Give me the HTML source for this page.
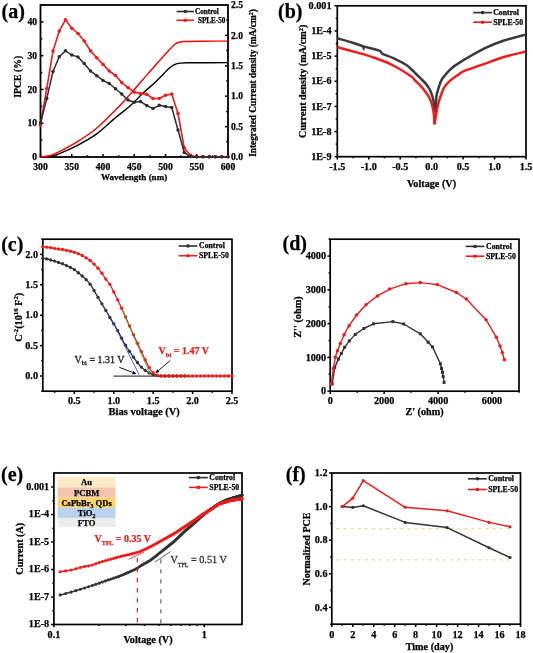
<!DOCTYPE html>
<html><head><meta charset="utf-8"><style>
html,body{margin:0;padding:0;background:#fff;}
svg{display:block;will-change:transform;}
text{font-family:"Liberation Serif", serif;}

</style></head><body>
<svg width="533" height="653" viewBox="0 0 533 653">
<rect width="533" height="653" fill="#fff"/>
<rect x="40.5" y="5" width="187.5" height="152" fill="none" stroke="#000" stroke-width="1.8"/>
<line x1="40.5" y1="157" x2="40.5" y2="154" stroke="#000" stroke-width="1.5"/>
<text x="40.5" y="169.6" font-size="9.6" text-anchor="middle" fill="#000" font-weight="bold" stroke="#000" stroke-width="0.25">300</text>
<line x1="56.12" y1="157" x2="56.12" y2="155.2" stroke="#000" stroke-width="1.5"/>
<line x1="71.75" y1="157" x2="71.75" y2="154" stroke="#000" stroke-width="1.5"/>
<text x="71.75" y="169.6" font-size="9.6" text-anchor="middle" fill="#000" font-weight="bold" stroke="#000" stroke-width="0.25">350</text>
<line x1="87.38" y1="157" x2="87.38" y2="155.2" stroke="#000" stroke-width="1.5"/>
<line x1="103" y1="157" x2="103" y2="154" stroke="#000" stroke-width="1.5"/>
<text x="103" y="169.6" font-size="9.6" text-anchor="middle" fill="#000" font-weight="bold" stroke="#000" stroke-width="0.25">400</text>
<line x1="118.62" y1="157" x2="118.62" y2="155.2" stroke="#000" stroke-width="1.5"/>
<line x1="134.25" y1="157" x2="134.25" y2="154" stroke="#000" stroke-width="1.5"/>
<text x="134.25" y="169.6" font-size="9.6" text-anchor="middle" fill="#000" font-weight="bold" stroke="#000" stroke-width="0.25">450</text>
<line x1="149.88" y1="157" x2="149.88" y2="155.2" stroke="#000" stroke-width="1.5"/>
<line x1="165.5" y1="157" x2="165.5" y2="154" stroke="#000" stroke-width="1.5"/>
<text x="165.5" y="169.6" font-size="9.6" text-anchor="middle" fill="#000" font-weight="bold" stroke="#000" stroke-width="0.25">500</text>
<line x1="181.12" y1="157" x2="181.12" y2="155.2" stroke="#000" stroke-width="1.5"/>
<line x1="196.75" y1="157" x2="196.75" y2="154" stroke="#000" stroke-width="1.5"/>
<text x="196.75" y="169.6" font-size="9.6" text-anchor="middle" fill="#000" font-weight="bold" stroke="#000" stroke-width="0.25">550</text>
<line x1="212.38" y1="157" x2="212.38" y2="155.2" stroke="#000" stroke-width="1.5"/>
<line x1="228" y1="157" x2="228" y2="154" stroke="#000" stroke-width="1.5"/>
<text x="228" y="169.6" font-size="9.6" text-anchor="middle" fill="#000" font-weight="bold" stroke="#000" stroke-width="0.25">600</text>
<line x1="40.5" y1="157" x2="43.5" y2="157" stroke="#000" stroke-width="1.5"/>
<text x="37" y="160.2" font-size="9.6" text-anchor="end" fill="#000" font-weight="bold" stroke="#000" stroke-width="0.25">0</text>
<line x1="40.5" y1="140.11" x2="42.3" y2="140.11" stroke="#000" stroke-width="1.5"/>
<line x1="40.5" y1="123.22" x2="43.5" y2="123.22" stroke="#000" stroke-width="1.5"/>
<text x="37" y="126.42" font-size="9.6" text-anchor="end" fill="#000" font-weight="bold" stroke="#000" stroke-width="0.25">10</text>
<line x1="40.5" y1="106.33" x2="42.3" y2="106.33" stroke="#000" stroke-width="1.5"/>
<line x1="40.5" y1="89.44" x2="43.5" y2="89.44" stroke="#000" stroke-width="1.5"/>
<text x="37" y="92.64" font-size="9.6" text-anchor="end" fill="#000" font-weight="bold" stroke="#000" stroke-width="0.25">20</text>
<line x1="40.5" y1="72.56" x2="42.3" y2="72.56" stroke="#000" stroke-width="1.5"/>
<line x1="40.5" y1="55.67" x2="43.5" y2="55.67" stroke="#000" stroke-width="1.5"/>
<text x="37" y="58.87" font-size="9.6" text-anchor="end" fill="#000" font-weight="bold" stroke="#000" stroke-width="0.25">30</text>
<line x1="40.5" y1="38.78" x2="42.3" y2="38.78" stroke="#000" stroke-width="1.5"/>
<line x1="40.5" y1="21.89" x2="43.5" y2="21.89" stroke="#000" stroke-width="1.5"/>
<text x="37" y="25.09" font-size="9.6" text-anchor="end" fill="#000" font-weight="bold" stroke="#000" stroke-width="0.25">40</text>
<line x1="40.5" y1="5" x2="42.3" y2="5" stroke="#000" stroke-width="1.5"/>
<line x1="228" y1="157" x2="225" y2="157" stroke="#000" stroke-width="1.5"/>
<text x="231" y="160.2" font-size="9.6" text-anchor="start" fill="#000" font-weight="bold" stroke="#000" stroke-width="0.25">0.0</text>
<line x1="228" y1="141.8" x2="226.2" y2="141.8" stroke="#000" stroke-width="1.5"/>
<line x1="228" y1="126.6" x2="225" y2="126.6" stroke="#000" stroke-width="1.5"/>
<text x="231" y="129.8" font-size="9.6" text-anchor="start" fill="#000" font-weight="bold" stroke="#000" stroke-width="0.25">0.5</text>
<line x1="228" y1="111.4" x2="226.2" y2="111.4" stroke="#000" stroke-width="1.5"/>
<line x1="228" y1="96.2" x2="225" y2="96.2" stroke="#000" stroke-width="1.5"/>
<text x="231" y="99.4" font-size="9.6" text-anchor="start" fill="#000" font-weight="bold" stroke="#000" stroke-width="0.25">1.0</text>
<line x1="228" y1="81" x2="226.2" y2="81" stroke="#000" stroke-width="1.5"/>
<line x1="228" y1="65.8" x2="225" y2="65.8" stroke="#000" stroke-width="1.5"/>
<text x="231" y="69" font-size="9.6" text-anchor="start" fill="#000" font-weight="bold" stroke="#000" stroke-width="0.25">1.5</text>
<line x1="228" y1="50.6" x2="226.2" y2="50.6" stroke="#000" stroke-width="1.5"/>
<line x1="228" y1="35.4" x2="225" y2="35.4" stroke="#000" stroke-width="1.5"/>
<text x="231" y="38.6" font-size="9.6" text-anchor="start" fill="#000" font-weight="bold" stroke="#000" stroke-width="0.25">2.0</text>
<line x1="228" y1="20.2" x2="226.2" y2="20.2" stroke="#000" stroke-width="1.5"/>
<line x1="228" y1="5" x2="225" y2="5" stroke="#000" stroke-width="1.5"/>
<text x="231" y="8.2" font-size="9.6" text-anchor="start" fill="#000" font-weight="bold" stroke="#000" stroke-width="0.25">2.5</text>
<text x="134" y="180.2" font-size="9" text-anchor="middle" fill="#000" font-weight="bold" stroke="#000" stroke-width="0.25">Wavelength (nm)</text>
<text x="21" y="76.7" font-size="9.8" text-anchor="middle" fill="#000" font-weight="bold" stroke="#000" stroke-width="0.25" transform="rotate(-90 21 76.7)">IPCE (%)</text>
<text x="256" y="83" font-size="9.3" text-anchor="middle" fill="#000" font-weight="bold" stroke="#000" stroke-width="0.25" transform="rotate(-90 256 83)">Integrated Current density (mA/cm<tspan dy="-3" font-size="6">2</tspan><tspan dy="3">)</tspan></text>
<text x="1.5" y="17.6" font-size="20" text-anchor="start" fill="#000" font-weight="bold" stroke="#000" stroke-width="0.25">(a)</text>
<path d="M40.5,157 C42.08,156.88 46.95,156.83 50,156.3 C53.05,155.77 54.22,155.63 58.8,153.8 C63.38,151.97 71.25,148.58 77.5,145.3 C83.75,142.02 90.05,138.63 96.3,134.1 C102.55,129.57 109.38,122.78 115,118.1 C120.62,113.42 125.32,110.17 130,106 C134.68,101.83 138.72,97.23 143.1,93.1 C147.48,88.97 151.92,85.37 156.3,81.2 C160.68,77.03 166.28,70.92 169.4,68.1 C172.52,65.28 173.23,65.13 175,64.3 C176.77,63.47 177.5,63.35 180,63.1 C182.5,62.85 182,62.88 190,62.8 C198,62.72 221.67,62.63 228,62.6" fill="none" stroke="#000" stroke-width="1.4" stroke-linejoin="round"/>
<path d="M40.5,157 C42.08,156.77 46.95,156.45 50,155.6 C53.05,154.75 54.22,154.23 58.8,151.9 C63.38,149.57 71.25,145.5 77.5,141.6 C83.75,137.7 90.05,133.67 96.3,128.5 C102.55,123.33 109.38,116.28 115,110.6 C120.62,104.92 125.32,99.62 130,94.4 C134.68,89.18 138.72,84.33 143.1,79.3 C147.48,74.27 151.92,69.13 156.3,64.2 C160.68,59.27 166.28,53.03 169.4,49.7 C172.52,46.37 173.4,45.45 175,44.2 C176.6,42.95 177.33,42.65 179,42.2 C180.67,41.75 181.5,41.67 185,41.5 C188.5,41.33 192.83,41.27 200,41.2 C207.17,41.13 223.33,41.12 228,41.1" fill="none" stroke="#f00" stroke-width="1.4" stroke-linejoin="round"/>
<polyline points="40.5,125 46.75,88.5 53,51.1 59.25,31 65.5,19.8 71.75,28.2 78,33.5 84.25,41 90.5,50.9 96.75,57.8 103,64.4 109.25,71 115.5,75.5 121.75,82.6 128,87.6 134.25,92.1 140.5,93.5 146.75,94.4 153,98.5 159.25,98.5 165.5,95.3 171.75,94 178,113.5 184.25,147.9 190.5,155.4 196.75,156.8 203,156.8 209.25,156.8 215.5,156.8 221.75,156.8 228,156.8" fill="none" stroke="#ee1c1c" stroke-width="1.6" stroke-linejoin="round"/>
<circle cx="40.5" cy="125" r="1.8" fill="#ee1c1c"/>
<circle cx="46.75" cy="88.5" r="1.8" fill="#ee1c1c"/>
<circle cx="53" cy="51.1" r="1.8" fill="#ee1c1c"/>
<circle cx="59.25" cy="31" r="1.8" fill="#ee1c1c"/>
<circle cx="65.5" cy="19.8" r="1.8" fill="#ee1c1c"/>
<circle cx="71.75" cy="28.2" r="1.8" fill="#ee1c1c"/>
<circle cx="78" cy="33.5" r="1.8" fill="#ee1c1c"/>
<circle cx="84.25" cy="41" r="1.8" fill="#ee1c1c"/>
<circle cx="90.5" cy="50.9" r="1.8" fill="#ee1c1c"/>
<circle cx="96.75" cy="57.8" r="1.8" fill="#ee1c1c"/>
<circle cx="103" cy="64.4" r="1.8" fill="#ee1c1c"/>
<circle cx="109.25" cy="71" r="1.8" fill="#ee1c1c"/>
<circle cx="115.5" cy="75.5" r="1.8" fill="#ee1c1c"/>
<circle cx="121.75" cy="82.6" r="1.8" fill="#ee1c1c"/>
<circle cx="128" cy="87.6" r="1.8" fill="#ee1c1c"/>
<circle cx="134.25" cy="92.1" r="1.8" fill="#ee1c1c"/>
<circle cx="140.5" cy="93.5" r="1.8" fill="#ee1c1c"/>
<circle cx="146.75" cy="94.4" r="1.8" fill="#ee1c1c"/>
<circle cx="153" cy="98.5" r="1.8" fill="#ee1c1c"/>
<circle cx="159.25" cy="98.5" r="1.8" fill="#ee1c1c"/>
<circle cx="165.5" cy="95.3" r="1.8" fill="#ee1c1c"/>
<circle cx="171.75" cy="94" r="1.8" fill="#ee1c1c"/>
<circle cx="178" cy="113.5" r="1.8" fill="#ee1c1c"/>
<circle cx="184.25" cy="147.9" r="1.8" fill="#ee1c1c"/>
<circle cx="190.5" cy="155.4" r="1.8" fill="#ee1c1c"/>
<circle cx="196.75" cy="156.8" r="1.8" fill="#ee1c1c"/>
<circle cx="203" cy="156.8" r="1.8" fill="#ee1c1c"/>
<circle cx="209.25" cy="156.8" r="1.8" fill="#ee1c1c"/>
<circle cx="215.5" cy="156.8" r="1.8" fill="#ee1c1c"/>
<circle cx="221.75" cy="156.8" r="1.8" fill="#ee1c1c"/>
<circle cx="228" cy="156.8" r="1.8" fill="#ee1c1c"/>
<polyline points="40.5,123 46.75,98.6 53,71.5 59.25,56.8 65.5,50.8 71.75,55 78,56.9 84.25,63.5 90.5,71 96.75,75.7 103,80.4 109.25,83.5 115.5,88.8 121.75,94 128,100 134.25,102.3 140.5,101.5 146.75,105.6 153,108.5 159.25,105.3 165.5,106.6 171.75,107.5 178,130 184.25,152.5 190.5,156.6 196.75,156.8 203,156.8 209.25,156.8 215.5,156.8 221.75,156.8 228,156.8" fill="none" stroke="#2e2e2e" stroke-width="1.5" stroke-linejoin="round"/>
<circle cx="40.5" cy="123" r="1.75" fill="#2e2e2e"/>
<circle cx="46.75" cy="98.6" r="1.75" fill="#2e2e2e"/>
<circle cx="53" cy="71.5" r="1.75" fill="#2e2e2e"/>
<circle cx="59.25" cy="56.8" r="1.75" fill="#2e2e2e"/>
<circle cx="65.5" cy="50.8" r="1.75" fill="#2e2e2e"/>
<circle cx="71.75" cy="55" r="1.75" fill="#2e2e2e"/>
<circle cx="78" cy="56.9" r="1.75" fill="#2e2e2e"/>
<circle cx="84.25" cy="63.5" r="1.75" fill="#2e2e2e"/>
<circle cx="90.5" cy="71" r="1.75" fill="#2e2e2e"/>
<circle cx="96.75" cy="75.7" r="1.75" fill="#2e2e2e"/>
<circle cx="103" cy="80.4" r="1.75" fill="#2e2e2e"/>
<circle cx="109.25" cy="83.5" r="1.75" fill="#2e2e2e"/>
<circle cx="115.5" cy="88.8" r="1.75" fill="#2e2e2e"/>
<circle cx="121.75" cy="94" r="1.75" fill="#2e2e2e"/>
<circle cx="128" cy="100" r="1.75" fill="#2e2e2e"/>
<circle cx="134.25" cy="102.3" r="1.75" fill="#2e2e2e"/>
<circle cx="140.5" cy="101.5" r="1.75" fill="#2e2e2e"/>
<circle cx="146.75" cy="105.6" r="1.75" fill="#2e2e2e"/>
<circle cx="153" cy="108.5" r="1.75" fill="#2e2e2e"/>
<circle cx="159.25" cy="105.3" r="1.75" fill="#2e2e2e"/>
<circle cx="165.5" cy="106.6" r="1.75" fill="#2e2e2e"/>
<circle cx="171.75" cy="107.5" r="1.75" fill="#2e2e2e"/>
<circle cx="178" cy="130" r="1.75" fill="#2e2e2e"/>
<circle cx="184.25" cy="152.5" r="1.75" fill="#2e2e2e"/>
<circle cx="190.5" cy="156.6" r="1.75" fill="#2e2e2e"/>
<circle cx="196.75" cy="156.8" r="1.75" fill="#2e2e2e"/>
<circle cx="203" cy="156.8" r="1.75" fill="#2e2e2e"/>
<circle cx="209.25" cy="156.8" r="1.75" fill="#2e2e2e"/>
<circle cx="215.5" cy="156.8" r="1.75" fill="#2e2e2e"/>
<circle cx="221.75" cy="156.8" r="1.75" fill="#2e2e2e"/>
<circle cx="228" cy="156.8" r="1.75" fill="#2e2e2e"/>
<line x1="176.6" y1="11.5" x2="194" y2="11.5" stroke="#2e2e2e" stroke-width="1.6"/>
<circle cx="185.3" cy="11.5" r="1.8" fill="#2e2e2e"/>
<text x="195" y="13.8" font-size="7.2" text-anchor="start" fill="#000" font-weight="bold" stroke="#000" stroke-width="0.25">Control</text>
<line x1="176.6" y1="20.3" x2="194" y2="20.3" stroke="#ee1c1c" stroke-width="1.6"/>
<circle cx="185.3" cy="20.3" r="1.8" fill="#ee1c1c"/>
<text x="197.9" y="22.9" font-size="7.2" text-anchor="start" fill="#000" font-weight="bold" stroke="#000" stroke-width="0.25">SPLE-50</text>
<rect x="337.3" y="5.8" width="188.7" height="150.9" fill="none" stroke="#000" stroke-width="1.7"/>
<line x1="337.3" y1="156.7" x2="337.3" y2="159.5" stroke="#000" stroke-width="1.5"/>
<text x="337.3" y="169.8" font-size="10.2" text-anchor="middle" fill="#000" font-weight="bold" stroke="#000" stroke-width="0.25">-1.5</text>
<line x1="353.03" y1="156.7" x2="353.03" y2="158.3" stroke="#000" stroke-width="1.5"/>
<line x1="368.75" y1="156.7" x2="368.75" y2="159.5" stroke="#000" stroke-width="1.5"/>
<text x="368.75" y="169.8" font-size="10.2" text-anchor="middle" fill="#000" font-weight="bold" stroke="#000" stroke-width="0.25">-1.0</text>
<line x1="384.48" y1="156.7" x2="384.48" y2="158.3" stroke="#000" stroke-width="1.5"/>
<line x1="400.2" y1="156.7" x2="400.2" y2="159.5" stroke="#000" stroke-width="1.5"/>
<text x="400.2" y="169.8" font-size="10.2" text-anchor="middle" fill="#000" font-weight="bold" stroke="#000" stroke-width="0.25">-0.5</text>
<line x1="415.93" y1="156.7" x2="415.93" y2="158.3" stroke="#000" stroke-width="1.5"/>
<line x1="431.65" y1="156.7" x2="431.65" y2="159.5" stroke="#000" stroke-width="1.5"/>
<text x="431.65" y="169.8" font-size="10.2" text-anchor="middle" fill="#000" font-weight="bold" stroke="#000" stroke-width="0.25">0.0</text>
<line x1="447.38" y1="156.7" x2="447.38" y2="158.3" stroke="#000" stroke-width="1.5"/>
<line x1="463.1" y1="156.7" x2="463.1" y2="159.5" stroke="#000" stroke-width="1.5"/>
<text x="463.1" y="169.8" font-size="10.2" text-anchor="middle" fill="#000" font-weight="bold" stroke="#000" stroke-width="0.25">0.5</text>
<line x1="478.82" y1="156.7" x2="478.82" y2="158.3" stroke="#000" stroke-width="1.5"/>
<line x1="494.55" y1="156.7" x2="494.55" y2="159.5" stroke="#000" stroke-width="1.5"/>
<text x="494.55" y="169.8" font-size="10.2" text-anchor="middle" fill="#000" font-weight="bold" stroke="#000" stroke-width="0.25">1.0</text>
<line x1="510.27" y1="156.7" x2="510.27" y2="158.3" stroke="#000" stroke-width="1.5"/>
<line x1="526" y1="156.7" x2="526" y2="159.5" stroke="#000" stroke-width="1.5"/>
<text x="526" y="169.8" font-size="10.2" text-anchor="middle" fill="#000" font-weight="bold" stroke="#000" stroke-width="0.25">1.5</text>
<line x1="337.3" y1="156.7" x2="334.5" y2="156.7" stroke="#000" stroke-width="1.5"/>
<line x1="337.3" y1="144.12" x2="335.7" y2="144.12" stroke="#000" stroke-width="1.5"/>
<line x1="337.3" y1="131.55" x2="334.5" y2="131.55" stroke="#000" stroke-width="1.5"/>
<line x1="337.3" y1="118.97" x2="335.7" y2="118.97" stroke="#000" stroke-width="1.5"/>
<line x1="337.3" y1="106.4" x2="334.5" y2="106.4" stroke="#000" stroke-width="1.5"/>
<line x1="337.3" y1="93.82" x2="335.7" y2="93.82" stroke="#000" stroke-width="1.5"/>
<line x1="337.3" y1="81.25" x2="334.5" y2="81.25" stroke="#000" stroke-width="1.5"/>
<line x1="337.3" y1="68.67" x2="335.7" y2="68.67" stroke="#000" stroke-width="1.5"/>
<line x1="337.3" y1="56.1" x2="334.5" y2="56.1" stroke="#000" stroke-width="1.5"/>
<line x1="337.3" y1="43.53" x2="335.7" y2="43.53" stroke="#000" stroke-width="1.5"/>
<line x1="337.3" y1="30.95" x2="334.5" y2="30.95" stroke="#000" stroke-width="1.5"/>
<line x1="337.3" y1="18.38" x2="335.7" y2="18.38" stroke="#000" stroke-width="1.5"/>
<line x1="337.3" y1="5.8" x2="334.5" y2="5.8" stroke="#000" stroke-width="1.5"/>
<text x="331.5" y="9" font-size="10.2" text-anchor="end" fill="#000" font-weight="bold" stroke="#000" stroke-width="0.25">0.001</text>
<text x="331.5" y="34.15" font-size="10.2" text-anchor="end" fill="#000" font-weight="bold" stroke="#000" stroke-width="0.25">1E-4</text>
<text x="331.5" y="59.3" font-size="10.2" text-anchor="end" fill="#000" font-weight="bold" stroke="#000" stroke-width="0.25">1E-5</text>
<text x="331.5" y="84.45" font-size="10.2" text-anchor="end" fill="#000" font-weight="bold" stroke="#000" stroke-width="0.25">1E-6</text>
<text x="331.5" y="109.6" font-size="10.2" text-anchor="end" fill="#000" font-weight="bold" stroke="#000" stroke-width="0.25">1E-7</text>
<text x="331.5" y="134.75" font-size="10.2" text-anchor="end" fill="#000" font-weight="bold" stroke="#000" stroke-width="0.25">1E-8</text>
<text x="331.5" y="159.9" font-size="10.2" text-anchor="end" fill="#000" font-weight="bold" stroke="#000" stroke-width="0.25">1E-9</text>
<text x="431.5" y="186.5" font-size="10.2" text-anchor="middle" fill="#000" font-weight="bold" stroke="#000" stroke-width="0.25">Voltage (V)</text>
<text x="306.3" y="81.2" font-size="10.2" text-anchor="middle" fill="#000" font-weight="bold" stroke="#000" stroke-width="0.25" transform="rotate(-90 306.3 81.2)">Current density (mA/cm<tspan dy="-3.5" font-size="6.5">2</tspan><tspan dy="3.5">)</tspan></text>
<text x="278" y="17.5" font-size="20" text-anchor="start" fill="#000" font-weight="bold" stroke="#000" stroke-width="0.25">(b)</text>
<path d="M337.3,38.3 C339.72,39 347.42,41.15 351.8,42.5 C356.18,43.85 359,45.05 363.6,46.4 C368.2,47.75 376.25,49.37 379.4,50.6 C382.55,51.83 380.1,52.52 382.5,53.8 C384.9,55.08 389.88,56.47 393.8,58.3 C397.72,60.13 403.13,63.02 406,64.8 C408.87,66.58 409.5,67.65 411,69 C412.5,70.35 413.43,71.37 415,72.9 C416.57,74.43 418.62,76.42 420.4,78.2 C422.18,79.98 424.1,81.63 425.7,83.6 C427.3,85.57 428.83,87.68 430,90 C431.17,92.32 431.98,94.83 432.7,97.5 C433.42,100.17 433.95,103.5 434.3,106 C434.65,108.5 434.72,111.42 434.8,112.5" fill="none" stroke="#3a3a3a" stroke-width="2.5" stroke-linejoin="round"/>
<path d="M434.8,112.5 C434.98,111.25 435.63,107.68 435.9,105 C436.17,102.32 435.95,99.25 436.4,96.4 C436.85,93.55 437.78,90.57 438.6,87.9 C439.42,85.23 440.05,82.73 441.3,80.4 C442.55,78.07 444.23,76.05 446.1,73.9 C447.97,71.75 449.82,69.65 452.5,67.5 C455.18,65.35 460.12,62.38 462.2,61 C464.28,59.62 461.28,61.32 465,59.2 C468.72,57.08 478,51.42 484.5,48.3 C491,45.18 497.17,42.78 504,40.5 C510.83,38.22 521.92,35.58 525.5,34.6" fill="none" stroke="#3a3a3a" stroke-width="2.5" stroke-linejoin="round"/>
<polyline points="362.6,46.2 363.6,49.8 364.6,46.8" fill="none" stroke="#3a3a3a" stroke-width="1.4" stroke-linejoin="round"/>
<path d="M337.3,47.2 C340.22,47.98 348.77,50.18 354.8,51.9 C360.83,53.62 367.25,55.32 373.5,57.5 C379.75,59.68 386.05,61.87 392.3,65 C398.55,68.13 407.22,73.73 411,76.3 C414.78,78.87 413.43,78.83 415,80.4 C416.57,81.97 418.62,83.73 420.4,85.7 C422.18,87.67 424.18,90.15 425.7,92.2 C427.22,94.25 428.43,95.87 429.5,98 C430.57,100.13 431.38,102.4 432.1,105 C432.82,107.6 433.4,110.38 433.8,113.6 C434.2,116.82 434.38,122.52 434.5,124.3" fill="none" stroke="#ee1c1c" stroke-width="2.5" stroke-linejoin="round"/>
<path d="M434.5,124.3 C434.73,122.87 435.4,118.55 435.9,115.7 C436.4,112.85 436.97,109.7 437.5,107.2 C438.03,104.7 438.47,102.85 439.1,100.7 C439.73,98.55 440.5,96.43 441.3,94.3 C442.1,92.17 442.57,90.05 443.9,87.9 C445.23,85.75 446.97,83.55 449.3,81.4 C451.63,79.25 455.28,76.78 457.9,75 C460.52,73.22 460.57,72.55 465,70.7 C469.43,68.85 478,66.18 484.5,63.9 C491,61.62 497.17,59.05 504,57 C510.83,54.95 521.92,52.5 525.5,51.6" fill="none" stroke="#ee1c1c" stroke-width="2.5" stroke-linejoin="round"/>
<line x1="473.2" y1="12.6" x2="492" y2="12.6" stroke="#2e2e2e" stroke-width="1.6"/>
<circle cx="482.6" cy="12.6" r="1.8" fill="#2e2e2e"/>
<text x="493.2" y="15.2" font-size="7.8" text-anchor="start" fill="#000" font-weight="bold" stroke="#000" stroke-width="0.25">Control</text>
<line x1="473.2" y1="22.2" x2="492" y2="22.2" stroke="#ee1c1c" stroke-width="1.6"/>
<circle cx="482.6" cy="22.2" r="1.8" fill="#ee1c1c"/>
<text x="493.2" y="24.6" font-size="7.8" text-anchor="start" fill="#000" font-weight="bold" stroke="#000" stroke-width="0.25">SPLE-50</text>
<rect x="42.8" y="239.2" width="189.2" height="152" fill="none" stroke="#000" stroke-width="1.7"/>
<line x1="54.62" y1="391.2" x2="54.62" y2="392.8" stroke="#000" stroke-width="1.5"/>
<line x1="74.33" y1="391.2" x2="74.33" y2="394" stroke="#000" stroke-width="1.5"/>
<text x="74.33" y="404" font-size="10.2" text-anchor="middle" fill="#000" font-weight="bold" stroke="#000" stroke-width="0.25">0.5</text>
<line x1="94.04" y1="391.2" x2="94.04" y2="392.8" stroke="#000" stroke-width="1.5"/>
<line x1="113.75" y1="391.2" x2="113.75" y2="394" stroke="#000" stroke-width="1.5"/>
<text x="113.75" y="404" font-size="10.2" text-anchor="middle" fill="#000" font-weight="bold" stroke="#000" stroke-width="0.25">1.0</text>
<line x1="133.46" y1="391.2" x2="133.46" y2="392.8" stroke="#000" stroke-width="1.5"/>
<line x1="153.17" y1="391.2" x2="153.17" y2="394" stroke="#000" stroke-width="1.5"/>
<text x="153.17" y="404" font-size="10.2" text-anchor="middle" fill="#000" font-weight="bold" stroke="#000" stroke-width="0.25">1.5</text>
<line x1="172.88" y1="391.2" x2="172.88" y2="392.8" stroke="#000" stroke-width="1.5"/>
<line x1="192.58" y1="391.2" x2="192.58" y2="394" stroke="#000" stroke-width="1.5"/>
<text x="192.58" y="404" font-size="10.2" text-anchor="middle" fill="#000" font-weight="bold" stroke="#000" stroke-width="0.25">2.0</text>
<line x1="212.29" y1="391.2" x2="212.29" y2="392.8" stroke="#000" stroke-width="1.5"/>
<line x1="232" y1="391.2" x2="232" y2="394" stroke="#000" stroke-width="1.5"/>
<text x="232" y="404" font-size="10.2" text-anchor="middle" fill="#000" font-weight="bold" stroke="#000" stroke-width="0.25">2.5</text>
<line x1="42.8" y1="391.2" x2="41.2" y2="391.2" stroke="#000" stroke-width="1.5"/>
<line x1="42.8" y1="376" x2="40" y2="376" stroke="#000" stroke-width="1.5"/>
<text x="38" y="379.2" font-size="10.2" text-anchor="end" fill="#000" font-weight="bold" stroke="#000" stroke-width="0.25">0.0</text>
<line x1="42.8" y1="360.8" x2="41.2" y2="360.8" stroke="#000" stroke-width="1.5"/>
<line x1="42.8" y1="345.6" x2="40" y2="345.6" stroke="#000" stroke-width="1.5"/>
<text x="38" y="348.8" font-size="10.2" text-anchor="end" fill="#000" font-weight="bold" stroke="#000" stroke-width="0.25">0.5</text>
<line x1="42.8" y1="330.4" x2="41.2" y2="330.4" stroke="#000" stroke-width="1.5"/>
<line x1="42.8" y1="315.2" x2="40" y2="315.2" stroke="#000" stroke-width="1.5"/>
<text x="38" y="318.4" font-size="10.2" text-anchor="end" fill="#000" font-weight="bold" stroke="#000" stroke-width="0.25">1.0</text>
<line x1="42.8" y1="300" x2="41.2" y2="300" stroke="#000" stroke-width="1.5"/>
<line x1="42.8" y1="284.8" x2="40" y2="284.8" stroke="#000" stroke-width="1.5"/>
<text x="38" y="288" font-size="10.2" text-anchor="end" fill="#000" font-weight="bold" stroke="#000" stroke-width="0.25">1.5</text>
<line x1="42.8" y1="269.6" x2="41.2" y2="269.6" stroke="#000" stroke-width="1.5"/>
<line x1="42.8" y1="254.4" x2="40" y2="254.4" stroke="#000" stroke-width="1.5"/>
<text x="38" y="257.6" font-size="10.2" text-anchor="end" fill="#000" font-weight="bold" stroke="#000" stroke-width="0.25">2.0</text>
<line x1="42.8" y1="239.2" x2="41.2" y2="239.2" stroke="#000" stroke-width="1.5"/>
<text x="144.2" y="414.7" font-size="10.5" text-anchor="middle" fill="#000" font-weight="bold" stroke="#000" stroke-width="0.25">Bias voltage (V)</text>
<text x="22.5" y="317.3" font-size="10.2" text-anchor="middle" fill="#000" font-weight="bold" stroke="#000" stroke-width="0.25" transform="rotate(-90 22.5 317.3)">C<tspan dy="-4.8" font-size="6.8">-2</tspan><tspan dy="4.8">(10</tspan><tspan dy="-4.8" font-size="6.8">16</tspan><tspan dy="4.8"> F</tspan><tspan dy="-4.8" font-size="6.8">2</tspan><tspan dy="4.8">)</tspan></text>
<text x="1.2" y="250.7" font-size="20" text-anchor="start" fill="#000" font-weight="bold" stroke="#000" stroke-width="0.25">(c)</text>
<line x1="113.4" y1="376.1" x2="186.7" y2="376.1" stroke="#444" stroke-width="1.3"/>
<path d="M42.8,258.3 C43.58,258.42 46.02,258.67 47.5,259 C48.98,259.33 50.37,259.92 51.7,260.3 C53.03,260.68 54.2,260.88 55.5,261.3 C56.8,261.72 58.2,262.35 59.5,262.8 C60.8,263.25 62.05,263.5 63.3,264 C64.55,264.5 65.68,265.17 67,265.8 C68.32,266.43 69.9,267.1 71.2,267.8 C72.5,268.5 73.5,269.08 74.8,270 C76.1,270.92 77.6,272.17 79,273.3 C80.4,274.43 81.82,275.55 83.2,276.8 C84.58,278.05 86,279.38 87.3,280.8 C88.6,282.22 89.75,283.47 91,285.3 C92.25,287.13 93.48,289.53 94.8,291.8 C96.12,294.07 97.57,296.65 98.9,298.9 C100.23,301.15 101.48,303.12 102.8,305.3 C104.12,307.48 105.5,309.75 106.8,312 C108.1,314.25 109.32,316.63 110.6,318.8 C111.88,320.97 113.18,322.8 114.5,325 C115.82,327.2 117.2,329.58 118.5,332 C119.8,334.42 121.05,337.17 122.3,339.5 C123.55,341.83 124.72,343.92 126,346 C127.28,348.08 128.67,350 130,352 C131.33,354 132.67,356.12 134,358 C135.33,359.88 136.67,361.67 138,363.3 C139.33,364.93 140.67,366.52 142,367.8 C143.33,369.08 144.67,370.07 146,371 C147.33,371.93 148.67,372.75 150,373.4 C151.33,374.05 152.67,374.52 154,374.9 C155.33,375.28 156.67,375.52 158,375.7 C159.33,375.88 156.67,375.95 162,376 C167.33,376.05 185.33,376 190,376" fill="none" stroke="#333" stroke-width="1.3" stroke-linejoin="round"/>
<path d="M42.8,246.8 C43.58,246.87 46.02,247.03 47.5,247.2 C48.98,247.37 50.37,247.57 51.7,247.8 C53.03,248.03 54.25,248.4 55.5,248.6 C56.75,248.8 57.9,248.83 59.2,249 C60.5,249.17 62,249.35 63.3,249.6 C64.6,249.85 65.75,250.2 67,250.5 C68.25,250.8 69.5,251.1 70.8,251.4 C72.1,251.7 73.48,251.9 74.8,252.3 C76.12,252.7 77.37,253.22 78.7,253.8 C80.03,254.38 81.45,255.05 82.8,255.8 C84.15,256.55 85.47,257.43 86.8,258.3 C88.13,259.17 89.47,259.92 90.8,261 C92.13,262.08 93.5,263.5 94.8,264.8 C96.1,266.1 97.35,267.3 98.6,268.8 C99.85,270.3 101.07,272.05 102.3,273.8 C103.53,275.55 104.67,277.43 106,279.3 C107.33,281.17 108.92,282.72 110.3,285 C111.68,287.28 113.02,290.42 114.3,293 C115.58,295.58 116.72,297.83 118,300.5 C119.28,303.17 120.67,306.08 122,309 C123.33,311.92 124.67,315 126,318 C127.33,321 128.67,324 130,327 C131.33,330 132.67,333.08 134,336 C135.33,338.92 136.67,341.67 138,344.5 C139.33,347.33 140.67,350.17 142,353 C143.33,355.83 144.67,358.83 146,361.5 C147.33,364.17 148.67,366.95 150,369 C151.33,371.05 152.67,372.7 154,373.8 C155.33,374.9 156.67,375.23 158,375.6 C159.33,375.97 149.67,375.93 162,376 C174.33,376.07 220.33,376 232,376" fill="none" stroke="#ee1c1c" stroke-width="1.3" stroke-linejoin="round"/>
<circle cx="42.8" cy="258.3" r="1.65" fill="#333"/>
<circle cx="46.74" cy="258.89" r="1.65" fill="#333"/>
<circle cx="50.68" cy="259.99" r="1.65" fill="#333"/>
<circle cx="54.62" cy="261.07" r="1.65" fill="#333"/>
<circle cx="58.57" cy="262.45" r="1.65" fill="#333"/>
<circle cx="62.51" cy="263.75" r="1.65" fill="#333"/>
<circle cx="66.45" cy="265.53" r="1.65" fill="#333"/>
<circle cx="70.39" cy="267.42" r="1.65" fill="#333"/>
<circle cx="74.33" cy="269.71" r="1.65" fill="#333"/>
<circle cx="78.27" cy="272.73" r="1.65" fill="#333"/>
<circle cx="82.22" cy="275.98" r="1.65" fill="#333"/>
<circle cx="86.16" cy="279.69" r="1.65" fill="#333"/>
<circle cx="90.1" cy="284.21" r="1.65" fill="#333"/>
<circle cx="94.04" cy="290.5" r="1.65" fill="#333"/>
<circle cx="97.98" cy="297.31" r="1.65" fill="#333"/>
<circle cx="101.93" cy="303.86" r="1.65" fill="#333"/>
<circle cx="105.87" cy="310.44" r="1.65" fill="#333"/>
<circle cx="109.81" cy="317.38" r="1.65" fill="#333"/>
<circle cx="113.75" cy="323.81" r="1.65" fill="#333"/>
<circle cx="117.69" cy="330.59" r="1.65" fill="#333"/>
<circle cx="121.63" cy="338.18" r="1.65" fill="#333"/>
<circle cx="125.58" cy="345.25" r="1.65" fill="#333"/>
<circle cx="129.52" cy="351.28" r="1.65" fill="#333"/>
<circle cx="133.46" cy="357.19" r="1.65" fill="#333"/>
<circle cx="137.4" cy="362.51" r="1.65" fill="#333"/>
<circle cx="141.34" cy="367.06" r="1.65" fill="#333"/>
<circle cx="145.28" cy="370.43" r="1.65" fill="#333"/>
<circle cx="149.23" cy="372.94" r="1.65" fill="#333"/>
<circle cx="153.17" cy="374.59" r="1.65" fill="#333"/>
<circle cx="157.11" cy="375.52" r="1.65" fill="#333"/>
<circle cx="161.05" cy="375.93" r="1.65" fill="#333"/>
<circle cx="164.99" cy="376" r="1.65" fill="#333"/>
<circle cx="168.93" cy="376" r="1.65" fill="#333"/>
<circle cx="172.88" cy="376" r="1.65" fill="#333"/>
<circle cx="176.82" cy="376" r="1.65" fill="#333"/>
<circle cx="180.76" cy="376" r="1.65" fill="#333"/>
<circle cx="184.7" cy="376" r="1.65" fill="#333"/>
<circle cx="42.8" cy="246.8" r="1.7" fill="#ee1c1c"/>
<circle cx="46.74" cy="247.14" r="1.7" fill="#ee1c1c"/>
<circle cx="50.68" cy="247.65" r="1.7" fill="#ee1c1c"/>
<circle cx="54.62" cy="248.42" r="1.7" fill="#ee1c1c"/>
<circle cx="58.57" cy="248.93" r="1.7" fill="#ee1c1c"/>
<circle cx="62.51" cy="249.48" r="1.7" fill="#ee1c1c"/>
<circle cx="66.45" cy="250.37" r="1.7" fill="#ee1c1c"/>
<circle cx="70.39" cy="251.3" r="1.7" fill="#ee1c1c"/>
<circle cx="74.33" cy="252.19" r="1.7" fill="#ee1c1c"/>
<circle cx="78.27" cy="253.64" r="1.7" fill="#ee1c1c"/>
<circle cx="82.22" cy="255.52" r="1.7" fill="#ee1c1c"/>
<circle cx="86.16" cy="257.9" r="1.7" fill="#ee1c1c"/>
<circle cx="90.1" cy="260.53" r="1.7" fill="#ee1c1c"/>
<circle cx="94.04" cy="264.08" r="1.7" fill="#ee1c1c"/>
<circle cx="97.98" cy="268.15" r="1.7" fill="#ee1c1c"/>
<circle cx="101.93" cy="273.29" r="1.7" fill="#ee1c1c"/>
<circle cx="105.87" cy="279.1" r="1.7" fill="#ee1c1c"/>
<circle cx="109.81" cy="284.35" r="1.7" fill="#ee1c1c"/>
<circle cx="113.75" cy="291.9" r="1.7" fill="#ee1c1c"/>
<circle cx="117.69" cy="299.88" r="1.7" fill="#ee1c1c"/>
<circle cx="121.63" cy="308.22" r="1.7" fill="#ee1c1c"/>
<circle cx="125.58" cy="317.04" r="1.7" fill="#ee1c1c"/>
<circle cx="129.52" cy="325.91" r="1.7" fill="#ee1c1c"/>
<circle cx="133.46" cy="334.78" r="1.7" fill="#ee1c1c"/>
<circle cx="137.4" cy="343.23" r="1.7" fill="#ee1c1c"/>
<circle cx="141.34" cy="351.6" r="1.7" fill="#ee1c1c"/>
<circle cx="145.28" cy="359.98" r="1.7" fill="#ee1c1c"/>
<circle cx="149.23" cy="367.55" r="1.7" fill="#ee1c1c"/>
<circle cx="153.17" cy="372.8" r="1.7" fill="#ee1c1c"/>
<circle cx="157.11" cy="375.2" r="1.7" fill="#ee1c1c"/>
<circle cx="161.05" cy="375.91" r="1.7" fill="#ee1c1c"/>
<circle cx="164.99" cy="376" r="1.7" fill="#ee1c1c"/>
<circle cx="168.93" cy="376" r="1.7" fill="#ee1c1c"/>
<circle cx="172.88" cy="376" r="1.7" fill="#ee1c1c"/>
<circle cx="176.82" cy="376" r="1.7" fill="#ee1c1c"/>
<circle cx="180.76" cy="376" r="1.7" fill="#ee1c1c"/>
<circle cx="184.7" cy="376" r="1.7" fill="#ee1c1c"/>
<circle cx="188.64" cy="376" r="1.7" fill="#ee1c1c"/>
<circle cx="192.58" cy="376" r="1.7" fill="#ee1c1c"/>
<circle cx="196.53" cy="376" r="1.7" fill="#ee1c1c"/>
<circle cx="200.47" cy="376" r="1.7" fill="#ee1c1c"/>
<circle cx="204.41" cy="376" r="1.7" fill="#ee1c1c"/>
<circle cx="208.35" cy="376" r="1.7" fill="#ee1c1c"/>
<circle cx="212.29" cy="376" r="1.7" fill="#ee1c1c"/>
<circle cx="216.23" cy="376" r="1.7" fill="#ee1c1c"/>
<circle cx="220.17" cy="376" r="1.7" fill="#ee1c1c"/>
<circle cx="224.12" cy="376" r="1.7" fill="#ee1c1c"/>
<circle cx="228.06" cy="376" r="1.7" fill="#ee1c1c"/>
<circle cx="232" cy="376" r="1.7" fill="#ee1c1c"/>
<line x1="110.3" y1="317" x2="139.2" y2="374.8" stroke="#1a3fff" stroke-width="0.8"/>
<line x1="121.5" y1="308.8" x2="150.8" y2="375.6" stroke="#55aa33" stroke-width="0.8"/>
<line x1="119.3" y1="367.3" x2="132.67" y2="372.46" stroke="#000" stroke-width="0.9"/>
<polygon points="136.4,373.9 132.02,374.14 133.32,370.78" fill="#000"/>
<line x1="170.2" y1="360.5" x2="158.34" y2="370.61" stroke="#000" stroke-width="0.9"/>
<polygon points="155.3,373.2 157.18,369.24 159.51,371.98" fill="#000"/>
<text x="74.6" y="362.7" font-size="10" text-anchor="start" fill="#222" font-weight="normal" stroke="#222" stroke-width="0.3">V<tspan dy="2.5" font-size="6.5">bi</tspan><tspan dy="-2.5"> = 1.31 V</tspan></text>
<text x="158.6" y="354.3" font-size="10" text-anchor="start" fill="#ee1c1c" font-weight="bold" stroke="#ee1c1c" stroke-width="0.25">V<tspan dy="2.5" font-size="6.5">bi</tspan><tspan dy="-2.5"> = 1.47 V</tspan></text>
<line x1="178.7" y1="246" x2="197.3" y2="246" stroke="#2e2e2e" stroke-width="1.6"/>
<circle cx="188" cy="246" r="1.8" fill="#2e2e2e"/>
<text x="199" y="248.4" font-size="7.8" text-anchor="start" fill="#000" font-weight="bold" stroke="#000" stroke-width="0.25">Control</text>
<line x1="178.7" y1="255.7" x2="197.3" y2="255.7" stroke="#ee1c1c" stroke-width="1.6"/>
<circle cx="188" cy="255.7" r="1.8" fill="#ee1c1c"/>
<text x="199" y="258.1" font-size="7.8" text-anchor="start" fill="#000" font-weight="bold" stroke="#000" stroke-width="0.25">SPLE-50</text>
<rect x="330.2" y="239.2" width="188.8" height="152" fill="none" stroke="#000" stroke-width="1.7"/>
<line x1="330.2" y1="391.2" x2="330.2" y2="394" stroke="#000" stroke-width="1.5"/>
<text x="330.2" y="403.5" font-size="10.2" text-anchor="middle" fill="#000" font-weight="bold" stroke="#000" stroke-width="0.25">0</text>
<line x1="357.17" y1="391.2" x2="357.17" y2="392.8" stroke="#000" stroke-width="1.5"/>
<line x1="384.14" y1="391.2" x2="384.14" y2="394" stroke="#000" stroke-width="1.5"/>
<text x="384.14" y="403.5" font-size="10.2" text-anchor="middle" fill="#000" font-weight="bold" stroke="#000" stroke-width="0.25">2000</text>
<line x1="411.11" y1="391.2" x2="411.11" y2="392.8" stroke="#000" stroke-width="1.5"/>
<line x1="438.09" y1="391.2" x2="438.09" y2="394" stroke="#000" stroke-width="1.5"/>
<text x="438.09" y="403.5" font-size="10.2" text-anchor="middle" fill="#000" font-weight="bold" stroke="#000" stroke-width="0.25">4000</text>
<line x1="465.06" y1="391.2" x2="465.06" y2="392.8" stroke="#000" stroke-width="1.5"/>
<line x1="492.03" y1="391.2" x2="492.03" y2="394" stroke="#000" stroke-width="1.5"/>
<text x="492.03" y="403.5" font-size="10.2" text-anchor="middle" fill="#000" font-weight="bold" stroke="#000" stroke-width="0.25">6000</text>
<line x1="519" y1="391.2" x2="519" y2="392.8" stroke="#000" stroke-width="1.5"/>
<line x1="330.2" y1="391.2" x2="327.4" y2="391.2" stroke="#000" stroke-width="1.5"/>
<text x="326" y="394.4" font-size="10.2" text-anchor="end" fill="#000" font-weight="bold" stroke="#000" stroke-width="0.25">0</text>
<line x1="330.2" y1="374.31" x2="328.6" y2="374.31" stroke="#000" stroke-width="1.5"/>
<line x1="330.2" y1="357.42" x2="327.4" y2="357.42" stroke="#000" stroke-width="1.5"/>
<text x="326" y="360.62" font-size="10.2" text-anchor="end" fill="#000" font-weight="bold" stroke="#000" stroke-width="0.25">1000</text>
<line x1="330.2" y1="340.53" x2="328.6" y2="340.53" stroke="#000" stroke-width="1.5"/>
<line x1="330.2" y1="323.64" x2="327.4" y2="323.64" stroke="#000" stroke-width="1.5"/>
<text x="326" y="326.84" font-size="10.2" text-anchor="end" fill="#000" font-weight="bold" stroke="#000" stroke-width="0.25">2000</text>
<line x1="330.2" y1="306.76" x2="328.6" y2="306.76" stroke="#000" stroke-width="1.5"/>
<line x1="330.2" y1="289.87" x2="327.4" y2="289.87" stroke="#000" stroke-width="1.5"/>
<text x="326" y="293.07" font-size="10.2" text-anchor="end" fill="#000" font-weight="bold" stroke="#000" stroke-width="0.25">3000</text>
<line x1="330.2" y1="272.98" x2="328.6" y2="272.98" stroke="#000" stroke-width="1.5"/>
<line x1="330.2" y1="256.09" x2="327.4" y2="256.09" stroke="#000" stroke-width="1.5"/>
<text x="326" y="259.29" font-size="10.2" text-anchor="end" fill="#000" font-weight="bold" stroke="#000" stroke-width="0.25">4000</text>
<line x1="330.2" y1="239.2" x2="328.6" y2="239.2" stroke="#000" stroke-width="1.5"/>
<text x="424.5" y="414.6" font-size="10.2" text-anchor="middle" fill="#000" font-weight="bold" stroke="#000" stroke-width="0.25">Z' (ohm)</text>
<text x="301.3" y="317" font-size="10.3" text-anchor="middle" fill="#000" font-weight="bold" stroke="#000" stroke-width="0.25" transform="rotate(-90 301.3 317)">Z'' (ohm)</text>
<text x="282.5" y="249.8" font-size="20" text-anchor="start" fill="#000" font-weight="bold" stroke="#000" stroke-width="0.25">(d)</text>
<polyline points="332.2,384 334.7,367.6 338.4,359.1 341.3,353.5 344.6,347.3 349.3,340.9 355.3,334.4 363.8,328.5 373.5,323.8 392.9,321.6 403.7,324 420.3,333.8 428.2,342.2 432.5,346.9 440.4,363.8 441.5,368.5 442.5,372.3 443.2,376.6 444.1,382.4" fill="none" stroke="#333" stroke-width="1.4" stroke-linejoin="round"/>
<rect x="330.7" y="382.5" width="3.0" height="3.0" fill="#333"/>
<rect x="333.2" y="366.1" width="3.0" height="3.0" fill="#333"/>
<rect x="336.9" y="357.6" width="3.0" height="3.0" fill="#333"/>
<rect x="339.8" y="352" width="3.0" height="3.0" fill="#333"/>
<rect x="343.1" y="345.8" width="3.0" height="3.0" fill="#333"/>
<rect x="347.8" y="339.4" width="3.0" height="3.0" fill="#333"/>
<rect x="353.8" y="332.9" width="3.0" height="3.0" fill="#333"/>
<rect x="362.3" y="327" width="3.0" height="3.0" fill="#333"/>
<rect x="372" y="322.3" width="3.0" height="3.0" fill="#333"/>
<rect x="391.4" y="320.1" width="3.0" height="3.0" fill="#333"/>
<rect x="402.2" y="322.5" width="3.0" height="3.0" fill="#333"/>
<rect x="418.8" y="332.3" width="3.0" height="3.0" fill="#333"/>
<rect x="426.7" y="340.7" width="3.0" height="3.0" fill="#333"/>
<rect x="431" y="345.4" width="3.0" height="3.0" fill="#333"/>
<rect x="438.9" y="362.3" width="3.0" height="3.0" fill="#333"/>
<rect x="440" y="367" width="3.0" height="3.0" fill="#333"/>
<rect x="441" y="370.8" width="3.0" height="3.0" fill="#333"/>
<rect x="441.7" y="375.1" width="3.0" height="3.0" fill="#333"/>
<rect x="442.6" y="380.9" width="3.0" height="3.0" fill="#333"/>
<polyline points="331.2,384 333.4,368.5 335.3,357.2 337.5,350.7 340.3,343.5 344.1,334.7 349.1,325.7 356.6,315 366,304.7 377.5,295.9 389.7,289.1 406,283.7 420.3,282.6 437.2,284.6 456.5,292.5 466.3,299.1 486,319.7 496.3,337.2 500,346 502.3,352.5 504.4,359.7" fill="none" stroke="#ee1c1c" stroke-width="1.4" stroke-linejoin="round"/>
<circle cx="331.2" cy="384" r="1.75" fill="#ee1c1c"/>
<circle cx="333.4" cy="368.5" r="1.75" fill="#ee1c1c"/>
<circle cx="335.3" cy="357.2" r="1.75" fill="#ee1c1c"/>
<circle cx="337.5" cy="350.7" r="1.75" fill="#ee1c1c"/>
<circle cx="340.3" cy="343.5" r="1.75" fill="#ee1c1c"/>
<circle cx="344.1" cy="334.7" r="1.75" fill="#ee1c1c"/>
<circle cx="349.1" cy="325.7" r="1.75" fill="#ee1c1c"/>
<circle cx="356.6" cy="315" r="1.75" fill="#ee1c1c"/>
<circle cx="366" cy="304.7" r="1.75" fill="#ee1c1c"/>
<circle cx="377.5" cy="295.9" r="1.75" fill="#ee1c1c"/>
<circle cx="389.7" cy="289.1" r="1.75" fill="#ee1c1c"/>
<circle cx="406" cy="283.7" r="1.75" fill="#ee1c1c"/>
<circle cx="420.3" cy="282.6" r="1.75" fill="#ee1c1c"/>
<circle cx="437.2" cy="284.6" r="1.75" fill="#ee1c1c"/>
<circle cx="456.5" cy="292.5" r="1.75" fill="#ee1c1c"/>
<circle cx="466.3" cy="299.1" r="1.75" fill="#ee1c1c"/>
<circle cx="486" cy="319.7" r="1.75" fill="#ee1c1c"/>
<circle cx="496.3" cy="337.2" r="1.75" fill="#ee1c1c"/>
<circle cx="500" cy="346" r="1.75" fill="#ee1c1c"/>
<circle cx="502.3" cy="352.5" r="1.75" fill="#ee1c1c"/>
<circle cx="504.4" cy="359.7" r="1.75" fill="#ee1c1c"/>
<line x1="465.7" y1="246.4" x2="484.3" y2="246.4" stroke="#2e2e2e" stroke-width="1.6"/>
<rect x="473.5" y="244.9" width="3.0" height="3.0" fill="#2e2e2e"/>
<text x="486" y="248.9" font-size="7.8" text-anchor="start" fill="#000" font-weight="bold" stroke="#000" stroke-width="0.25">Control</text>
<line x1="465.7" y1="256.2" x2="484.3" y2="256.2" stroke="#ee1c1c" stroke-width="1.6"/>
<circle cx="475" cy="256.2" r="1.8" fill="#ee1c1c"/>
<text x="486" y="258.7" font-size="7.8" text-anchor="start" fill="#000" font-weight="bold" stroke="#000" stroke-width="0.25">SPLE-50</text>
<rect x="57.7" y="477" width="57.8" height="10.4" fill="#fbebc6"/>
<rect x="57.7" y="487.4" width="57.8" height="10.2" fill="#f5c6ad"/>
<rect x="57.7" y="497.6" width="57.8" height="10.2" fill="#fcd46c"/>
<rect x="57.7" y="507.8" width="57.8" height="10.1" fill="#b9d3ee"/>
<rect x="57.7" y="517.9" width="57.8" height="9.3" fill="#ededed"/>
<text x="86.6" y="485.2" font-size="8.6" text-anchor="middle" fill="#000" font-weight="bold" stroke="#000" stroke-width="0.25">Au</text>
<text x="86.6" y="495.5" font-size="8.6" text-anchor="middle" fill="#000" font-weight="bold" stroke="#000" stroke-width="0.25">PCBM</text>
<text x="86.6" y="505.7" font-size="8.6" text-anchor="middle" fill="#000" font-weight="bold" stroke="#000" stroke-width="0.25">CsPbBr<tspan dy="2" font-size="5.8">3</tspan><tspan dy="-2"> QDs</tspan></text>
<text x="86.6" y="515.85" font-size="8.6" text-anchor="middle" fill="#000" font-weight="bold" stroke="#000" stroke-width="0.25">TiO<tspan dy="2" font-size="5.8">2</tspan></text>
<text x="86.6" y="525.55" font-size="8.6" text-anchor="middle" fill="#000" font-weight="bold" stroke="#000" stroke-width="0.25">FTO</text>
<rect x="53.9" y="473" width="188.1" height="151.5" fill="none" stroke="#000" stroke-width="1.7"/>
<line x1="53.9" y1="624.5" x2="53.9" y2="627.3" stroke="#000" stroke-width="1.5"/>
<line x1="99.14" y1="624.5" x2="99.14" y2="626.1" stroke="#000" stroke-width="1.5"/>
<line x1="125.61" y1="624.5" x2="125.61" y2="626.1" stroke="#000" stroke-width="1.5"/>
<line x1="144.39" y1="624.5" x2="144.39" y2="626.1" stroke="#000" stroke-width="1.5"/>
<line x1="158.96" y1="624.5" x2="158.96" y2="626.1" stroke="#000" stroke-width="1.5"/>
<line x1="170.86" y1="624.5" x2="170.86" y2="626.1" stroke="#000" stroke-width="1.5"/>
<line x1="180.92" y1="624.5" x2="180.92" y2="626.1" stroke="#000" stroke-width="1.5"/>
<line x1="189.63" y1="624.5" x2="189.63" y2="626.1" stroke="#000" stroke-width="1.5"/>
<line x1="197.32" y1="624.5" x2="197.32" y2="626.1" stroke="#000" stroke-width="1.5"/>
<line x1="204.2" y1="624.5" x2="204.2" y2="627.3" stroke="#000" stroke-width="1.5"/>
<text x="53.9" y="637.6" font-size="10.2" text-anchor="middle" fill="#000" font-weight="bold" stroke="#000" stroke-width="0.25">0.1</text>
<text x="204.2" y="637.6" font-size="10.2" text-anchor="middle" fill="#000" font-weight="bold" stroke="#000" stroke-width="0.25">1</text>
<line x1="53.9" y1="624.5" x2="51.1" y2="624.5" stroke="#000" stroke-width="1.5"/>
<line x1="53.9" y1="610.75" x2="52.3" y2="610.75" stroke="#000" stroke-width="1.5"/>
<line x1="53.9" y1="597" x2="51.1" y2="597" stroke="#000" stroke-width="1.5"/>
<line x1="53.9" y1="583.25" x2="52.3" y2="583.25" stroke="#000" stroke-width="1.5"/>
<line x1="53.9" y1="569.5" x2="51.1" y2="569.5" stroke="#000" stroke-width="1.5"/>
<line x1="53.9" y1="555.75" x2="52.3" y2="555.75" stroke="#000" stroke-width="1.5"/>
<line x1="53.9" y1="542" x2="51.1" y2="542" stroke="#000" stroke-width="1.5"/>
<line x1="53.9" y1="528.25" x2="52.3" y2="528.25" stroke="#000" stroke-width="1.5"/>
<line x1="53.9" y1="514.5" x2="51.1" y2="514.5" stroke="#000" stroke-width="1.5"/>
<line x1="53.9" y1="500.75" x2="52.3" y2="500.75" stroke="#000" stroke-width="1.5"/>
<line x1="53.9" y1="487" x2="51.1" y2="487" stroke="#000" stroke-width="1.5"/>
<text x="49.2" y="489.6" font-size="10.2" text-anchor="end" fill="#000" font-weight="bold" stroke="#000" stroke-width="0.25">0.001</text>
<text x="49.2" y="517.1" font-size="10.2" text-anchor="end" fill="#000" font-weight="bold" stroke="#000" stroke-width="0.25">1E-4</text>
<text x="49.2" y="544.6" font-size="10.2" text-anchor="end" fill="#000" font-weight="bold" stroke="#000" stroke-width="0.25">1E-5</text>
<text x="49.2" y="572.1" font-size="10.2" text-anchor="end" fill="#000" font-weight="bold" stroke="#000" stroke-width="0.25">1E-6</text>
<text x="49.2" y="599.6" font-size="10.2" text-anchor="end" fill="#000" font-weight="bold" stroke="#000" stroke-width="0.25">1E-7</text>
<text x="49.2" y="627.1" font-size="10.2" text-anchor="end" fill="#000" font-weight="bold" stroke="#000" stroke-width="0.25">1E-8</text>
<text x="148" y="642.5" font-size="10.2" text-anchor="middle" fill="#000" font-weight="bold" stroke="#000" stroke-width="0.25">Voltage (V)</text>
<text x="23.5" y="548.8" font-size="10.1" text-anchor="middle" fill="#000" font-weight="bold" stroke="#000" stroke-width="0.25" transform="rotate(-90 23.5 548.8)">Current (A)</text>
<text x="1" y="481.3" font-size="20" text-anchor="start" fill="#000" font-weight="bold" stroke="#000" stroke-width="0.25">(e)</text>
<path d="M61,594.9 C62.9,594.37 68.9,592.72 72.4,591.7 C75.9,590.68 78.9,589.77 82,588.8 C85.1,587.83 88.25,586.8 91,585.9 C93.75,585 96.17,584.22 98.5,583.4 C100.83,582.58 102.92,581.73 105,581 C107.08,580.27 109,579.67 111,579 C113,578.33 115.17,577.63 117,577 C118.83,576.37 120.33,575.87 122,575.2 C123.67,574.53 125.33,573.73 127,573 C128.67,572.27 130.33,571.55 132,570.8 C133.67,570.05 135.67,569.27 137,568.5 C138.33,567.73 137.62,567.67 140,566.2 C142.38,564.73 147.55,562.28 151.3,559.7 C155.05,557.12 158.75,553.7 162.5,550.7 C166.25,547.7 170.05,544.98 173.8,541.7 C177.55,538.42 181.67,534.03 185,531 C188.33,527.97 191.3,525.7 193.8,523.5 C196.3,521.3 198.32,519.35 200,517.8 C201.68,516.25 202.12,515.63 203.9,514.2 C205.68,512.77 208.17,510.98 210.7,509.2 C213.23,507.42 216.28,505.1 219.1,503.5 C221.92,501.9 223.78,500.97 227.6,499.6 C231.42,498.23 239.6,496.02 242,495.3" fill="none" stroke="#333" stroke-width="1.5" stroke-linejoin="round"/>
<path d="M61,571.7 C62.9,571.38 68.9,570.58 72.4,569.8 C75.9,569.02 78.9,567.72 82,567 C85.1,566.28 88,566.3 91,565.5 C94,564.7 96.83,563.22 100,562.2 C103.17,561.18 106.67,560.33 110,559.4 C113.33,558.47 116.67,557.47 120,556.6 C123.33,555.73 126.67,555.03 130,554.2 C133.33,553.37 136.45,552.93 140,551.6 C143.55,550.27 147.55,548.13 151.3,546.2 C155.05,544.27 158.75,542.07 162.5,540 C166.25,537.93 170.05,536.05 173.8,533.8 C177.55,531.55 181.67,528.68 185,526.5 C188.33,524.32 191.3,522.42 193.8,520.7 C196.3,518.98 198.32,517.38 200,516.2 C201.68,515.02 202.12,514.72 203.9,513.6 C205.68,512.48 208.17,511.1 210.7,509.5 C213.23,507.9 215.73,505.52 219.1,504 C222.47,502.48 227.08,501.28 230.9,500.4 C234.72,499.52 240.15,498.98 242,498.7" fill="none" stroke="#ee1c1c" stroke-width="1.5" stroke-linejoin="round"/>
<circle cx="60.12" cy="594.9" r="1.55" fill="#333"/>
<circle cx="65.8" cy="593.55" r="1.55" fill="#333"/>
<circle cx="71.03" cy="592.09" r="1.55" fill="#333"/>
<circle cx="75.86" cy="590.65" r="1.55" fill="#333"/>
<circle cx="80.37" cy="589.29" r="1.55" fill="#333"/>
<circle cx="84.58" cy="587.97" r="1.55" fill="#333"/>
<circle cx="88.54" cy="586.69" r="1.55" fill="#333"/>
<circle cx="92.27" cy="585.48" r="1.55" fill="#333"/>
<circle cx="95.8" cy="584.3" r="1.55" fill="#333"/>
<circle cx="99.14" cy="583.16" r="1.55" fill="#333"/>
<circle cx="102.33" cy="581.99" r="1.55" fill="#333"/>
<circle cx="105.37" cy="580.88" r="1.55" fill="#333"/>
<circle cx="108.27" cy="579.91" r="1.55" fill="#333"/>
<circle cx="111.05" cy="578.98" r="1.55" fill="#333"/>
<circle cx="113.71" cy="578.1" r="1.55" fill="#333"/>
<circle cx="116.27" cy="577.24" r="1.55" fill="#333"/>
<circle cx="118.73" cy="576.38" r="1.55" fill="#333"/>
<circle cx="121.11" cy="575.52" r="1.55" fill="#333"/>
<circle cx="123.4" cy="574.58" r="1.55" fill="#333"/>
<circle cx="125.61" cy="573.61" r="1.55" fill="#333"/>
<circle cx="127.75" cy="572.67" r="1.55" fill="#333"/>
<circle cx="129.82" cy="571.76" r="1.55" fill="#333"/>
<circle cx="131.83" cy="570.87" r="1.55" fill="#333"/>
<circle cx="133.78" cy="569.98" r="1.55" fill="#333"/>
<circle cx="135.67" cy="569.11" r="1.55" fill="#333"/>
<circle cx="137.51" cy="568.11" r="1.55" fill="#333"/>
<circle cx="139.3" cy="566.74" r="1.55" fill="#333"/>
<circle cx="141.04" cy="565.6" r="1.55" fill="#333"/>
<circle cx="142.74" cy="564.63" r="1.55" fill="#333"/>
<circle cx="144.39" cy="563.67" r="1.55" fill="#333"/>
<circle cx="146" cy="562.75" r="1.55" fill="#333"/>
<circle cx="147.57" cy="561.84" r="1.55" fill="#333"/>
<circle cx="149.11" cy="560.96" r="1.55" fill="#333"/>
<circle cx="150.61" cy="560.1" r="1.55" fill="#333"/>
<circle cx="152.08" cy="559.07" r="1.55" fill="#333"/>
<circle cx="153.51" cy="557.92" r="1.55" fill="#333"/>
<circle cx="154.92" cy="556.79" r="1.55" fill="#333"/>
<circle cx="156.29" cy="555.69" r="1.55" fill="#333"/>
<circle cx="157.64" cy="554.61" r="1.55" fill="#333"/>
<circle cx="158.96" cy="553.55" r="1.55" fill="#333"/>
<circle cx="160.25" cy="552.51" r="1.55" fill="#333"/>
<circle cx="161.52" cy="551.49" r="1.55" fill="#333"/>
<circle cx="162.76" cy="550.49" r="1.55" fill="#333"/>
<circle cx="163.98" cy="549.52" r="1.55" fill="#333"/>
<circle cx="165.18" cy="548.57" r="1.55" fill="#333"/>
<circle cx="166.35" cy="547.63" r="1.55" fill="#333"/>
<circle cx="167.51" cy="546.71" r="1.55" fill="#333"/>
<circle cx="168.64" cy="545.81" r="1.55" fill="#333"/>
<circle cx="169.76" cy="544.92" r="1.55" fill="#333"/>
<circle cx="170.86" cy="544.04" r="1.55" fill="#333"/>
<circle cx="171.94" cy="543.19" r="1.55" fill="#333"/>
<circle cx="173" cy="542.34" r="1.55" fill="#333"/>
<circle cx="174.04" cy="541.47" r="1.55" fill="#333"/>
<circle cx="175.07" cy="540.49" r="1.55" fill="#333"/>
<circle cx="176.08" cy="539.52" r="1.55" fill="#333"/>
<circle cx="177.08" cy="538.57" r="1.55" fill="#333"/>
<circle cx="178.06" cy="537.63" r="1.55" fill="#333"/>
<circle cx="179.03" cy="536.71" r="1.55" fill="#333"/>
<circle cx="179.98" cy="535.8" r="1.55" fill="#333"/>
<circle cx="180.92" cy="534.9" r="1.55" fill="#333"/>
<circle cx="181.84" cy="534.01" r="1.55" fill="#333"/>
<circle cx="182.76" cy="533.14" r="1.55" fill="#333"/>
<circle cx="183.66" cy="532.28" r="1.55" fill="#333"/>
<circle cx="184.55" cy="531.43" r="1.55" fill="#333"/>
<circle cx="185.42" cy="530.64" r="1.55" fill="#333"/>
<circle cx="186.29" cy="529.9" r="1.55" fill="#333"/>
<circle cx="187.14" cy="529.18" r="1.55" fill="#333"/>
<circle cx="187.98" cy="528.46" r="1.55" fill="#333"/>
<circle cx="188.81" cy="527.75" r="1.55" fill="#333"/>
<circle cx="189.63" cy="527.05" r="1.55" fill="#333"/>
<circle cx="190.45" cy="526.36" r="1.55" fill="#333"/>
<circle cx="191.25" cy="525.68" r="1.55" fill="#333"/>
<circle cx="192.04" cy="525" r="1.55" fill="#333"/>
<circle cx="192.82" cy="524.34" r="1.55" fill="#333"/>
<circle cx="193.59" cy="523.68" r="1.55" fill="#333"/>
<circle cx="194.36" cy="522.99" r="1.55" fill="#333"/>
<circle cx="195.11" cy="522.3" r="1.55" fill="#333"/>
<circle cx="195.86" cy="521.61" r="1.55" fill="#333"/>
<circle cx="196.59" cy="520.93" r="1.55" fill="#333"/>
<circle cx="197.32" cy="520.26" r="1.55" fill="#333"/>
<circle cx="198.04" cy="519.6" r="1.55" fill="#333"/>
<circle cx="198.76" cy="518.94" r="1.55" fill="#333"/>
<circle cx="199.46" cy="518.29" r="1.55" fill="#333"/>
<circle cx="200.16" cy="517.65" r="1.55" fill="#333"/>
<circle cx="200.85" cy="517.01" r="1.55" fill="#333"/>
<circle cx="201.54" cy="516.38" r="1.55" fill="#333"/>
<circle cx="202.21" cy="515.76" r="1.55" fill="#333"/>
<circle cx="202.88" cy="515.14" r="1.55" fill="#333"/>
<circle cx="203.54" cy="514.53" r="1.55" fill="#333"/>
<circle cx="204.2" cy="513.98" r="1.55" fill="#333"/>
<circle cx="204.85" cy="513.5" r="1.55" fill="#333"/>
<circle cx="205.49" cy="513.03" r="1.55" fill="#333"/>
<circle cx="206.13" cy="512.56" r="1.55" fill="#333"/>
<circle cx="206.76" cy="512.1" r="1.55" fill="#333"/>
<circle cx="207.38" cy="511.64" r="1.55" fill="#333"/>
<circle cx="208" cy="511.18" r="1.55" fill="#333"/>
<circle cx="208.62" cy="510.73" r="1.55" fill="#333"/>
<circle cx="209.22" cy="510.29" r="1.55" fill="#333"/>
<circle cx="209.83" cy="509.84" r="1.55" fill="#333"/>
<circle cx="210.42" cy="509.4" r="1.55" fill="#333"/>
<circle cx="211.01" cy="508.99" r="1.55" fill="#333"/>
<circle cx="211.6" cy="508.59" r="1.55" fill="#333"/>
<circle cx="212.18" cy="508.2" r="1.55" fill="#333"/>
<circle cx="212.75" cy="507.81" r="1.55" fill="#333"/>
<circle cx="213.32" cy="507.42" r="1.55" fill="#333"/>
<circle cx="213.89" cy="507.04" r="1.55" fill="#333"/>
<circle cx="214.45" cy="506.66" r="1.55" fill="#333"/>
<circle cx="215" cy="506.28" r="1.55" fill="#333"/>
<circle cx="215.55" cy="505.91" r="1.55" fill="#333"/>
<circle cx="216.1" cy="505.54" r="1.55" fill="#333"/>
<circle cx="216.64" cy="505.17" r="1.55" fill="#333"/>
<circle cx="217.18" cy="504.8" r="1.55" fill="#333"/>
<circle cx="217.71" cy="504.44" r="1.55" fill="#333"/>
<circle cx="218.24" cy="504.08" r="1.55" fill="#333"/>
<circle cx="218.77" cy="503.73" r="1.55" fill="#333"/>
<circle cx="219.29" cy="503.41" r="1.55" fill="#333"/>
<circle cx="219.8" cy="503.18" r="1.55" fill="#333"/>
<circle cx="220.31" cy="502.94" r="1.55" fill="#333"/>
<circle cx="220.82" cy="502.71" r="1.55" fill="#333"/>
<circle cx="221.33" cy="502.48" r="1.55" fill="#333"/>
<circle cx="221.83" cy="502.25" r="1.55" fill="#333"/>
<circle cx="222.32" cy="502.02" r="1.55" fill="#333"/>
<circle cx="222.81" cy="501.8" r="1.55" fill="#333"/>
<circle cx="223.3" cy="501.57" r="1.55" fill="#333"/>
<circle cx="223.79" cy="501.35" r="1.55" fill="#333"/>
<circle cx="224.27" cy="501.13" r="1.55" fill="#333"/>
<circle cx="224.75" cy="500.91" r="1.55" fill="#333"/>
<circle cx="225.22" cy="500.69" r="1.55" fill="#333"/>
<circle cx="225.7" cy="500.47" r="1.55" fill="#333"/>
<circle cx="226.16" cy="500.26" r="1.55" fill="#333"/>
<circle cx="226.63" cy="500.05" r="1.55" fill="#333"/>
<circle cx="227.09" cy="499.83" r="1.55" fill="#333"/>
<circle cx="227.55" cy="499.62" r="1.55" fill="#333"/>
<circle cx="228" cy="499.48" r="1.55" fill="#333"/>
<circle cx="228.45" cy="499.35" r="1.55" fill="#333"/>
<circle cx="228.9" cy="499.21" r="1.55" fill="#333"/>
<circle cx="229.35" cy="499.08" r="1.55" fill="#333"/>
<circle cx="229.79" cy="498.95" r="1.55" fill="#333"/>
<circle cx="230.23" cy="498.81" r="1.55" fill="#333"/>
<circle cx="230.67" cy="498.68" r="1.55" fill="#333"/>
<circle cx="231.1" cy="498.55" r="1.55" fill="#333"/>
<circle cx="231.53" cy="498.43" r="1.55" fill="#333"/>
<circle cx="231.96" cy="498.3" r="1.55" fill="#333"/>
<circle cx="232.38" cy="498.17" r="1.55" fill="#333"/>
<circle cx="232.81" cy="498.05" r="1.55" fill="#333"/>
<circle cx="233.23" cy="497.92" r="1.55" fill="#333"/>
<circle cx="233.64" cy="497.8" r="1.55" fill="#333"/>
<circle cx="234.06" cy="497.67" r="1.55" fill="#333"/>
<circle cx="234.47" cy="497.55" r="1.55" fill="#333"/>
<circle cx="234.88" cy="497.43" r="1.55" fill="#333"/>
<circle cx="235.29" cy="497.3" r="1.55" fill="#333"/>
<circle cx="235.69" cy="497.18" r="1.55" fill="#333"/>
<circle cx="236.09" cy="497.06" r="1.55" fill="#333"/>
<circle cx="236.49" cy="496.95" r="1.55" fill="#333"/>
<circle cx="236.89" cy="496.83" r="1.55" fill="#333"/>
<circle cx="237.28" cy="496.71" r="1.55" fill="#333"/>
<circle cx="237.67" cy="496.59" r="1.55" fill="#333"/>
<circle cx="238.06" cy="496.48" r="1.55" fill="#333"/>
<circle cx="238.45" cy="496.36" r="1.55" fill="#333"/>
<circle cx="238.84" cy="496.24" r="1.55" fill="#333"/>
<circle cx="239.22" cy="496.13" r="1.55" fill="#333"/>
<circle cx="239.6" cy="496.02" r="1.55" fill="#333"/>
<circle cx="239.98" cy="495.9" r="1.55" fill="#333"/>
<circle cx="240.35" cy="495.79" r="1.55" fill="#333"/>
<circle cx="240.73" cy="495.68" r="1.55" fill="#333"/>
<circle cx="241.1" cy="495.57" r="1.55" fill="#333"/>
<circle cx="241.47" cy="495.46" r="1.55" fill="#333"/>
<circle cx="241.84" cy="495.35" r="1.55" fill="#333"/>
<circle cx="242.2" cy="495.3" r="1.55" fill="#333"/>
<circle cx="60.12" cy="571.7" r="1.55" fill="#ee1c1c"/>
<circle cx="65.8" cy="570.9" r="1.55" fill="#ee1c1c"/>
<circle cx="71.03" cy="570.03" r="1.55" fill="#ee1c1c"/>
<circle cx="75.86" cy="568.79" r="1.55" fill="#ee1c1c"/>
<circle cx="80.37" cy="567.48" r="1.55" fill="#ee1c1c"/>
<circle cx="84.58" cy="566.57" r="1.55" fill="#ee1c1c"/>
<circle cx="88.54" cy="565.91" r="1.55" fill="#ee1c1c"/>
<circle cx="92.27" cy="565.04" r="1.55" fill="#ee1c1c"/>
<circle cx="95.8" cy="563.74" r="1.55" fill="#ee1c1c"/>
<circle cx="99.14" cy="562.51" r="1.55" fill="#ee1c1c"/>
<circle cx="102.33" cy="561.55" r="1.55" fill="#ee1c1c"/>
<circle cx="105.37" cy="560.7" r="1.55" fill="#ee1c1c"/>
<circle cx="108.27" cy="559.89" r="1.55" fill="#ee1c1c"/>
<circle cx="111.05" cy="559.11" r="1.55" fill="#ee1c1c"/>
<circle cx="113.71" cy="558.36" r="1.55" fill="#ee1c1c"/>
<circle cx="116.27" cy="557.64" r="1.55" fill="#ee1c1c"/>
<circle cx="118.73" cy="556.95" r="1.55" fill="#ee1c1c"/>
<circle cx="121.11" cy="556.33" r="1.55" fill="#ee1c1c"/>
<circle cx="123.4" cy="555.78" r="1.55" fill="#ee1c1c"/>
<circle cx="125.61" cy="555.25" r="1.55" fill="#ee1c1c"/>
<circle cx="127.75" cy="554.74" r="1.55" fill="#ee1c1c"/>
<circle cx="129.82" cy="554.24" r="1.55" fill="#ee1c1c"/>
<circle cx="131.83" cy="553.72" r="1.55" fill="#ee1c1c"/>
<circle cx="133.78" cy="553.22" r="1.55" fill="#ee1c1c"/>
<circle cx="135.67" cy="552.72" r="1.55" fill="#ee1c1c"/>
<circle cx="137.51" cy="552.25" r="1.55" fill="#ee1c1c"/>
<circle cx="139.3" cy="551.78" r="1.55" fill="#ee1c1c"/>
<circle cx="141.04" cy="551.1" r="1.55" fill="#ee1c1c"/>
<circle cx="142.74" cy="550.29" r="1.55" fill="#ee1c1c"/>
<circle cx="144.39" cy="549.5" r="1.55" fill="#ee1c1c"/>
<circle cx="146" cy="548.73" r="1.55" fill="#ee1c1c"/>
<circle cx="147.57" cy="547.98" r="1.55" fill="#ee1c1c"/>
<circle cx="149.11" cy="547.25" r="1.55" fill="#ee1c1c"/>
<circle cx="150.61" cy="546.53" r="1.55" fill="#ee1c1c"/>
<circle cx="152.08" cy="545.77" r="1.55" fill="#ee1c1c"/>
<circle cx="153.51" cy="544.98" r="1.55" fill="#ee1c1c"/>
<circle cx="154.92" cy="544.2" r="1.55" fill="#ee1c1c"/>
<circle cx="156.29" cy="543.44" r="1.55" fill="#ee1c1c"/>
<circle cx="157.64" cy="542.69" r="1.55" fill="#ee1c1c"/>
<circle cx="158.96" cy="541.96" r="1.55" fill="#ee1c1c"/>
<circle cx="160.25" cy="541.25" r="1.55" fill="#ee1c1c"/>
<circle cx="161.52" cy="540.55" r="1.55" fill="#ee1c1c"/>
<circle cx="162.76" cy="539.86" r="1.55" fill="#ee1c1c"/>
<circle cx="163.98" cy="539.19" r="1.55" fill="#ee1c1c"/>
<circle cx="165.18" cy="538.53" r="1.55" fill="#ee1c1c"/>
<circle cx="166.35" cy="537.89" r="1.55" fill="#ee1c1c"/>
<circle cx="167.51" cy="537.25" r="1.55" fill="#ee1c1c"/>
<circle cx="168.64" cy="536.63" r="1.55" fill="#ee1c1c"/>
<circle cx="169.76" cy="536.02" r="1.55" fill="#ee1c1c"/>
<circle cx="170.86" cy="535.42" r="1.55" fill="#ee1c1c"/>
<circle cx="171.94" cy="534.82" r="1.55" fill="#ee1c1c"/>
<circle cx="173" cy="534.24" r="1.55" fill="#ee1c1c"/>
<circle cx="174.04" cy="533.64" r="1.55" fill="#ee1c1c"/>
<circle cx="175.07" cy="532.97" r="1.55" fill="#ee1c1c"/>
<circle cx="176.08" cy="532.31" r="1.55" fill="#ee1c1c"/>
<circle cx="177.08" cy="531.66" r="1.55" fill="#ee1c1c"/>
<circle cx="178.06" cy="531.02" r="1.55" fill="#ee1c1c"/>
<circle cx="179.03" cy="530.39" r="1.55" fill="#ee1c1c"/>
<circle cx="179.98" cy="529.77" r="1.55" fill="#ee1c1c"/>
<circle cx="180.92" cy="529.16" r="1.55" fill="#ee1c1c"/>
<circle cx="181.84" cy="528.56" r="1.55" fill="#ee1c1c"/>
<circle cx="182.76" cy="527.96" r="1.55" fill="#ee1c1c"/>
<circle cx="183.66" cy="527.38" r="1.55" fill="#ee1c1c"/>
<circle cx="184.55" cy="526.8" r="1.55" fill="#ee1c1c"/>
<circle cx="185.42" cy="526.22" r="1.55" fill="#ee1c1c"/>
<circle cx="186.29" cy="525.65" r="1.55" fill="#ee1c1c"/>
<circle cx="187.14" cy="525.09" r="1.55" fill="#ee1c1c"/>
<circle cx="187.98" cy="524.53" r="1.55" fill="#ee1c1c"/>
<circle cx="188.81" cy="523.99" r="1.55" fill="#ee1c1c"/>
<circle cx="189.63" cy="523.45" r="1.55" fill="#ee1c1c"/>
<circle cx="190.45" cy="522.91" r="1.55" fill="#ee1c1c"/>
<circle cx="191.25" cy="522.38" r="1.55" fill="#ee1c1c"/>
<circle cx="192.04" cy="521.86" r="1.55" fill="#ee1c1c"/>
<circle cx="192.82" cy="521.35" r="1.55" fill="#ee1c1c"/>
<circle cx="193.59" cy="520.84" r="1.55" fill="#ee1c1c"/>
<circle cx="194.36" cy="520.3" r="1.55" fill="#ee1c1c"/>
<circle cx="195.11" cy="519.75" r="1.55" fill="#ee1c1c"/>
<circle cx="195.86" cy="519.21" r="1.55" fill="#ee1c1c"/>
<circle cx="196.59" cy="518.67" r="1.55" fill="#ee1c1c"/>
<circle cx="197.32" cy="518.14" r="1.55" fill="#ee1c1c"/>
<circle cx="198.04" cy="517.62" r="1.55" fill="#ee1c1c"/>
<circle cx="198.76" cy="517.1" r="1.55" fill="#ee1c1c"/>
<circle cx="199.46" cy="516.59" r="1.55" fill="#ee1c1c"/>
<circle cx="200.16" cy="516.09" r="1.55" fill="#ee1c1c"/>
<circle cx="200.85" cy="515.63" r="1.55" fill="#ee1c1c"/>
<circle cx="201.54" cy="515.18" r="1.55" fill="#ee1c1c"/>
<circle cx="202.21" cy="514.73" r="1.55" fill="#ee1c1c"/>
<circle cx="202.88" cy="514.28" r="1.55" fill="#ee1c1c"/>
<circle cx="203.54" cy="513.84" r="1.55" fill="#ee1c1c"/>
<circle cx="204.2" cy="513.42" r="1.55" fill="#ee1c1c"/>
<circle cx="204.85" cy="513.03" r="1.55" fill="#ee1c1c"/>
<circle cx="205.49" cy="512.64" r="1.55" fill="#ee1c1c"/>
<circle cx="206.13" cy="512.26" r="1.55" fill="#ee1c1c"/>
<circle cx="206.76" cy="511.88" r="1.55" fill="#ee1c1c"/>
<circle cx="207.38" cy="511.5" r="1.55" fill="#ee1c1c"/>
<circle cx="208" cy="511.13" r="1.55" fill="#ee1c1c"/>
<circle cx="208.62" cy="510.76" r="1.55" fill="#ee1c1c"/>
<circle cx="209.22" cy="510.39" r="1.55" fill="#ee1c1c"/>
<circle cx="209.83" cy="510.03" r="1.55" fill="#ee1c1c"/>
<circle cx="210.42" cy="509.67" r="1.55" fill="#ee1c1c"/>
<circle cx="211.01" cy="509.3" r="1.55" fill="#ee1c1c"/>
<circle cx="211.6" cy="508.91" r="1.55" fill="#ee1c1c"/>
<circle cx="212.18" cy="508.53" r="1.55" fill="#ee1c1c"/>
<circle cx="212.75" cy="508.16" r="1.55" fill="#ee1c1c"/>
<circle cx="213.32" cy="507.78" r="1.55" fill="#ee1c1c"/>
<circle cx="213.89" cy="507.41" r="1.55" fill="#ee1c1c"/>
<circle cx="214.45" cy="507.05" r="1.55" fill="#ee1c1c"/>
<circle cx="215" cy="506.68" r="1.55" fill="#ee1c1c"/>
<circle cx="215.55" cy="506.32" r="1.55" fill="#ee1c1c"/>
<circle cx="216.1" cy="505.96" r="1.55" fill="#ee1c1c"/>
<circle cx="216.64" cy="505.61" r="1.55" fill="#ee1c1c"/>
<circle cx="217.18" cy="505.26" r="1.55" fill="#ee1c1c"/>
<circle cx="217.71" cy="504.91" r="1.55" fill="#ee1c1c"/>
<circle cx="218.24" cy="504.56" r="1.55" fill="#ee1c1c"/>
<circle cx="218.77" cy="504.22" r="1.55" fill="#ee1c1c"/>
<circle cx="219.29" cy="503.94" r="1.55" fill="#ee1c1c"/>
<circle cx="219.8" cy="503.79" r="1.55" fill="#ee1c1c"/>
<circle cx="220.31" cy="503.63" r="1.55" fill="#ee1c1c"/>
<circle cx="220.82" cy="503.47" r="1.55" fill="#ee1c1c"/>
<circle cx="221.33" cy="503.32" r="1.55" fill="#ee1c1c"/>
<circle cx="221.83" cy="503.17" r="1.55" fill="#ee1c1c"/>
<circle cx="222.32" cy="503.02" r="1.55" fill="#ee1c1c"/>
<circle cx="222.81" cy="502.87" r="1.55" fill="#ee1c1c"/>
<circle cx="223.3" cy="502.72" r="1.55" fill="#ee1c1c"/>
<circle cx="223.79" cy="502.57" r="1.55" fill="#ee1c1c"/>
<circle cx="224.27" cy="502.42" r="1.55" fill="#ee1c1c"/>
<circle cx="224.75" cy="502.28" r="1.55" fill="#ee1c1c"/>
<circle cx="225.22" cy="502.13" r="1.55" fill="#ee1c1c"/>
<circle cx="225.7" cy="501.99" r="1.55" fill="#ee1c1c"/>
<circle cx="226.16" cy="501.85" r="1.55" fill="#ee1c1c"/>
<circle cx="226.63" cy="501.7" r="1.55" fill="#ee1c1c"/>
<circle cx="227.09" cy="501.56" r="1.55" fill="#ee1c1c"/>
<circle cx="227.55" cy="501.42" r="1.55" fill="#ee1c1c"/>
<circle cx="228" cy="501.28" r="1.55" fill="#ee1c1c"/>
<circle cx="228.45" cy="501.15" r="1.55" fill="#ee1c1c"/>
<circle cx="228.9" cy="501.01" r="1.55" fill="#ee1c1c"/>
<circle cx="229.35" cy="500.87" r="1.55" fill="#ee1c1c"/>
<circle cx="229.79" cy="500.74" r="1.55" fill="#ee1c1c"/>
<circle cx="230.23" cy="500.6" r="1.55" fill="#ee1c1c"/>
<circle cx="230.67" cy="500.47" r="1.55" fill="#ee1c1c"/>
<circle cx="231.1" cy="500.37" r="1.55" fill="#ee1c1c"/>
<circle cx="231.53" cy="500.3" r="1.55" fill="#ee1c1c"/>
<circle cx="231.96" cy="500.24" r="1.55" fill="#ee1c1c"/>
<circle cx="232.38" cy="500.17" r="1.55" fill="#ee1c1c"/>
<circle cx="232.81" cy="500.11" r="1.55" fill="#ee1c1c"/>
<circle cx="233.23" cy="500.04" r="1.55" fill="#ee1c1c"/>
<circle cx="233.64" cy="499.98" r="1.55" fill="#ee1c1c"/>
<circle cx="234.06" cy="499.92" r="1.55" fill="#ee1c1c"/>
<circle cx="234.47" cy="499.85" r="1.55" fill="#ee1c1c"/>
<circle cx="234.88" cy="499.79" r="1.55" fill="#ee1c1c"/>
<circle cx="235.29" cy="499.73" r="1.55" fill="#ee1c1c"/>
<circle cx="235.69" cy="499.67" r="1.55" fill="#ee1c1c"/>
<circle cx="236.09" cy="499.6" r="1.55" fill="#ee1c1c"/>
<circle cx="236.49" cy="499.54" r="1.55" fill="#ee1c1c"/>
<circle cx="236.89" cy="499.48" r="1.55" fill="#ee1c1c"/>
<circle cx="237.28" cy="499.42" r="1.55" fill="#ee1c1c"/>
<circle cx="237.67" cy="499.36" r="1.55" fill="#ee1c1c"/>
<circle cx="238.06" cy="499.3" r="1.55" fill="#ee1c1c"/>
<circle cx="238.45" cy="499.24" r="1.55" fill="#ee1c1c"/>
<circle cx="238.84" cy="499.18" r="1.55" fill="#ee1c1c"/>
<circle cx="239.22" cy="499.13" r="1.55" fill="#ee1c1c"/>
<circle cx="239.6" cy="499.07" r="1.55" fill="#ee1c1c"/>
<circle cx="239.98" cy="499.01" r="1.55" fill="#ee1c1c"/>
<circle cx="240.35" cy="498.95" r="1.55" fill="#ee1c1c"/>
<circle cx="240.73" cy="498.89" r="1.55" fill="#ee1c1c"/>
<circle cx="241.1" cy="498.84" r="1.55" fill="#ee1c1c"/>
<circle cx="241.47" cy="498.78" r="1.55" fill="#ee1c1c"/>
<circle cx="241.84" cy="498.72" r="1.55" fill="#ee1c1c"/>
<circle cx="242.2" cy="498.7" r="1.55" fill="#ee1c1c"/>
<line x1="137.4" y1="622.5" x2="137.4" y2="556" stroke="#ee1c1c" stroke-width="1.1" stroke-dasharray="4.4,5.6"/>
<line x1="160.9" y1="623.6" x2="160.9" y2="556" stroke="#555" stroke-width="1.1" stroke-dasharray="4.3,5.7"/>
<line x1="128.5" y1="559.4" x2="144.4" y2="551.9" stroke="#ee1c1c" stroke-width="0.8"/>
<line x1="154.7" y1="562.2" x2="170.7" y2="551.5" stroke="#333" stroke-width="0.8"/>
<text x="94.4" y="541.8" font-size="10" text-anchor="start" fill="#ee1c1c" font-weight="bold" stroke="#ee1c1c" stroke-width="0.25">V<tspan dy="3.2" font-size="6">TFL</tspan><tspan dy="-3.2"> = 0.35 V</tspan></text>
<text x="170.4" y="563.4" font-size="10.2" text-anchor="start" fill="#333" font-weight="normal" stroke="#333" stroke-width="0.3">V<tspan dy="3.2" font-size="6">TFL</tspan><tspan dy="-3.2"> = 0.51 V</tspan></text>
<line x1="189" y1="477.6" x2="207.8" y2="477.6" stroke="#2e2e2e" stroke-width="1.6"/>
<circle cx="198.4" cy="477.6" r="1.8" fill="#2e2e2e"/>
<text x="209.3" y="480.1" font-size="7.8" text-anchor="start" fill="#000" font-weight="bold" stroke="#000" stroke-width="0.25">Control</text>
<line x1="189" y1="487.4" x2="207.8" y2="487.4" stroke="#ee1c1c" stroke-width="1.6"/>
<circle cx="198.4" cy="487.4" r="1.8" fill="#ee1c1c"/>
<text x="209.3" y="489.9" font-size="7.8" text-anchor="start" fill="#000" font-weight="bold" stroke="#000" stroke-width="0.25">SPLE-50</text>
<rect x="331.8" y="473" width="188.7" height="151.2" fill="none" stroke="#000" stroke-width="1.7"/>
<line x1="331.8" y1="624.2" x2="331.8" y2="627" stroke="#000" stroke-width="1.5"/>
<text x="331.8" y="637.9" font-size="10.2" text-anchor="middle" fill="#000" font-weight="bold" stroke="#000" stroke-width="0.25">0</text>
<line x1="342.28" y1="624.2" x2="342.28" y2="625.8" stroke="#000" stroke-width="1.5"/>
<line x1="352.77" y1="624.2" x2="352.77" y2="627" stroke="#000" stroke-width="1.5"/>
<text x="352.77" y="637.9" font-size="10.2" text-anchor="middle" fill="#000" font-weight="bold" stroke="#000" stroke-width="0.25">2</text>
<line x1="363.25" y1="624.2" x2="363.25" y2="625.8" stroke="#000" stroke-width="1.5"/>
<line x1="373.73" y1="624.2" x2="373.73" y2="627" stroke="#000" stroke-width="1.5"/>
<text x="373.73" y="637.9" font-size="10.2" text-anchor="middle" fill="#000" font-weight="bold" stroke="#000" stroke-width="0.25">4</text>
<line x1="384.22" y1="624.2" x2="384.22" y2="625.8" stroke="#000" stroke-width="1.5"/>
<line x1="394.7" y1="624.2" x2="394.7" y2="627" stroke="#000" stroke-width="1.5"/>
<text x="394.7" y="637.9" font-size="10.2" text-anchor="middle" fill="#000" font-weight="bold" stroke="#000" stroke-width="0.25">6</text>
<line x1="405.18" y1="624.2" x2="405.18" y2="625.8" stroke="#000" stroke-width="1.5"/>
<line x1="415.67" y1="624.2" x2="415.67" y2="627" stroke="#000" stroke-width="1.5"/>
<text x="415.67" y="637.9" font-size="10.2" text-anchor="middle" fill="#000" font-weight="bold" stroke="#000" stroke-width="0.25">8</text>
<line x1="426.15" y1="624.2" x2="426.15" y2="625.8" stroke="#000" stroke-width="1.5"/>
<line x1="436.63" y1="624.2" x2="436.63" y2="627" stroke="#000" stroke-width="1.5"/>
<text x="436.63" y="637.9" font-size="10.2" text-anchor="middle" fill="#000" font-weight="bold" stroke="#000" stroke-width="0.25">10</text>
<line x1="447.12" y1="624.2" x2="447.12" y2="625.8" stroke="#000" stroke-width="1.5"/>
<line x1="457.6" y1="624.2" x2="457.6" y2="627" stroke="#000" stroke-width="1.5"/>
<text x="457.6" y="637.9" font-size="10.2" text-anchor="middle" fill="#000" font-weight="bold" stroke="#000" stroke-width="0.25">12</text>
<line x1="468.08" y1="624.2" x2="468.08" y2="625.8" stroke="#000" stroke-width="1.5"/>
<line x1="478.57" y1="624.2" x2="478.57" y2="627" stroke="#000" stroke-width="1.5"/>
<text x="478.57" y="637.9" font-size="10.2" text-anchor="middle" fill="#000" font-weight="bold" stroke="#000" stroke-width="0.25">14</text>
<line x1="489.05" y1="624.2" x2="489.05" y2="625.8" stroke="#000" stroke-width="1.5"/>
<line x1="499.53" y1="624.2" x2="499.53" y2="627" stroke="#000" stroke-width="1.5"/>
<text x="499.53" y="637.9" font-size="10.2" text-anchor="middle" fill="#000" font-weight="bold" stroke="#000" stroke-width="0.25">16</text>
<line x1="510.02" y1="624.2" x2="510.02" y2="625.8" stroke="#000" stroke-width="1.5"/>
<line x1="520.5" y1="624.2" x2="520.5" y2="627" stroke="#000" stroke-width="1.5"/>
<text x="520.5" y="637.9" font-size="10.2" text-anchor="middle" fill="#000" font-weight="bold" stroke="#000" stroke-width="0.25">18</text>
<line x1="331.8" y1="624.2" x2="330.2" y2="624.2" stroke="#000" stroke-width="1.5"/>
<line x1="331.8" y1="607.4" x2="329" y2="607.4" stroke="#000" stroke-width="1.5"/>
<text x="327.5" y="610.6" font-size="10.2" text-anchor="end" fill="#000" font-weight="bold" stroke="#000" stroke-width="0.25">0.4</text>
<line x1="331.8" y1="590.6" x2="330.2" y2="590.6" stroke="#000" stroke-width="1.5"/>
<line x1="331.8" y1="573.8" x2="329" y2="573.8" stroke="#000" stroke-width="1.5"/>
<text x="327.5" y="577" font-size="10.2" text-anchor="end" fill="#000" font-weight="bold" stroke="#000" stroke-width="0.25">0.6</text>
<line x1="331.8" y1="557" x2="330.2" y2="557" stroke="#000" stroke-width="1.5"/>
<line x1="331.8" y1="540.2" x2="329" y2="540.2" stroke="#000" stroke-width="1.5"/>
<text x="327.5" y="543.4" font-size="10.2" text-anchor="end" fill="#000" font-weight="bold" stroke="#000" stroke-width="0.25">0.8</text>
<line x1="331.8" y1="523.4" x2="330.2" y2="523.4" stroke="#000" stroke-width="1.5"/>
<line x1="331.8" y1="506.6" x2="329" y2="506.6" stroke="#000" stroke-width="1.5"/>
<text x="327.5" y="509.8" font-size="10.2" text-anchor="end" fill="#000" font-weight="bold" stroke="#000" stroke-width="0.25">1.0</text>
<line x1="331.8" y1="489.8" x2="330.2" y2="489.8" stroke="#000" stroke-width="1.5"/>
<line x1="331.8" y1="473" x2="329" y2="473" stroke="#000" stroke-width="1.5"/>
<text x="327.5" y="476.2" font-size="10.2" text-anchor="end" fill="#000" font-weight="bold" stroke="#000" stroke-width="0.25">1.2</text>
<text x="429.5" y="649.6" font-size="10.2" text-anchor="middle" fill="#000" font-weight="bold" stroke="#000" stroke-width="0.25">Time (day)</text>
<text x="309.5" y="549" font-size="10.1" text-anchor="middle" fill="#000" font-weight="bold" stroke="#000" stroke-width="0.25" transform="rotate(-90 309.5 549)">Normalized PCE</text>
<text x="285.8" y="481.2" font-size="20" text-anchor="start" fill="#000" font-weight="bold" stroke="#000" stroke-width="0.25">(f)</text>
<line x1="336.3" y1="528.6" x2="512" y2="528.6" stroke="#f8da9c" stroke-width="1.4" stroke-dasharray="3.2,3.9"/>
<line x1="336.3" y1="559.9" x2="512" y2="559.9" stroke="#f8da9c" stroke-width="1.4" stroke-dasharray="3.2,3.9"/>
<polyline points="342.28,506.6 352.77,507.44 363.25,505.76 405.18,522.39 447.12,527.6 489.05,547.76 510.02,557.5" fill="none" stroke="#333" stroke-width="1.5" stroke-linejoin="round"/>
<circle cx="342.28" cy="506.6" r="1.6" fill="#333"/>
<circle cx="352.77" cy="507.44" r="1.6" fill="#333"/>
<circle cx="363.25" cy="505.76" r="1.6" fill="#333"/>
<circle cx="405.18" cy="522.39" r="1.6" fill="#333"/>
<circle cx="447.12" cy="527.6" r="1.6" fill="#333"/>
<circle cx="489.05" cy="547.76" r="1.6" fill="#333"/>
<circle cx="510.02" cy="557.5" r="1.6" fill="#333"/>
<polyline points="342.28,506.6 352.77,498.2 363.25,480.56 405.18,507.27 447.12,510.8 489.05,522.39 510.02,526.76" fill="none" stroke="#ee1c1c" stroke-width="1.5" stroke-linejoin="round"/>
<circle cx="342.28" cy="506.6" r="1.6" fill="#ee1c1c"/>
<circle cx="352.77" cy="498.2" r="1.6" fill="#ee1c1c"/>
<circle cx="363.25" cy="480.56" r="1.6" fill="#ee1c1c"/>
<circle cx="405.18" cy="507.27" r="1.6" fill="#ee1c1c"/>
<circle cx="447.12" cy="510.8" r="1.6" fill="#ee1c1c"/>
<circle cx="489.05" cy="522.39" r="1.6" fill="#ee1c1c"/>
<circle cx="510.02" cy="526.76" r="1.6" fill="#ee1c1c"/>
<line x1="468" y1="478.8" x2="486.8" y2="478.8" stroke="#2e2e2e" stroke-width="1.6"/>
<circle cx="477.4" cy="478.8" r="1.8" fill="#2e2e2e"/>
<text x="488.2" y="481.3" font-size="7.8" text-anchor="start" fill="#000" font-weight="bold" stroke="#000" stroke-width="0.25">Control</text>
<line x1="468" y1="489.5" x2="486.8" y2="489.5" stroke="#ee1c1c" stroke-width="1.6"/>
<circle cx="477.4" cy="489.5" r="1.8" fill="#ee1c1c"/>
<text x="488.2" y="492" font-size="7.8" text-anchor="start" fill="#000" font-weight="bold" stroke="#000" stroke-width="0.25">SPLE-50</text>
</svg>
</body></html>
